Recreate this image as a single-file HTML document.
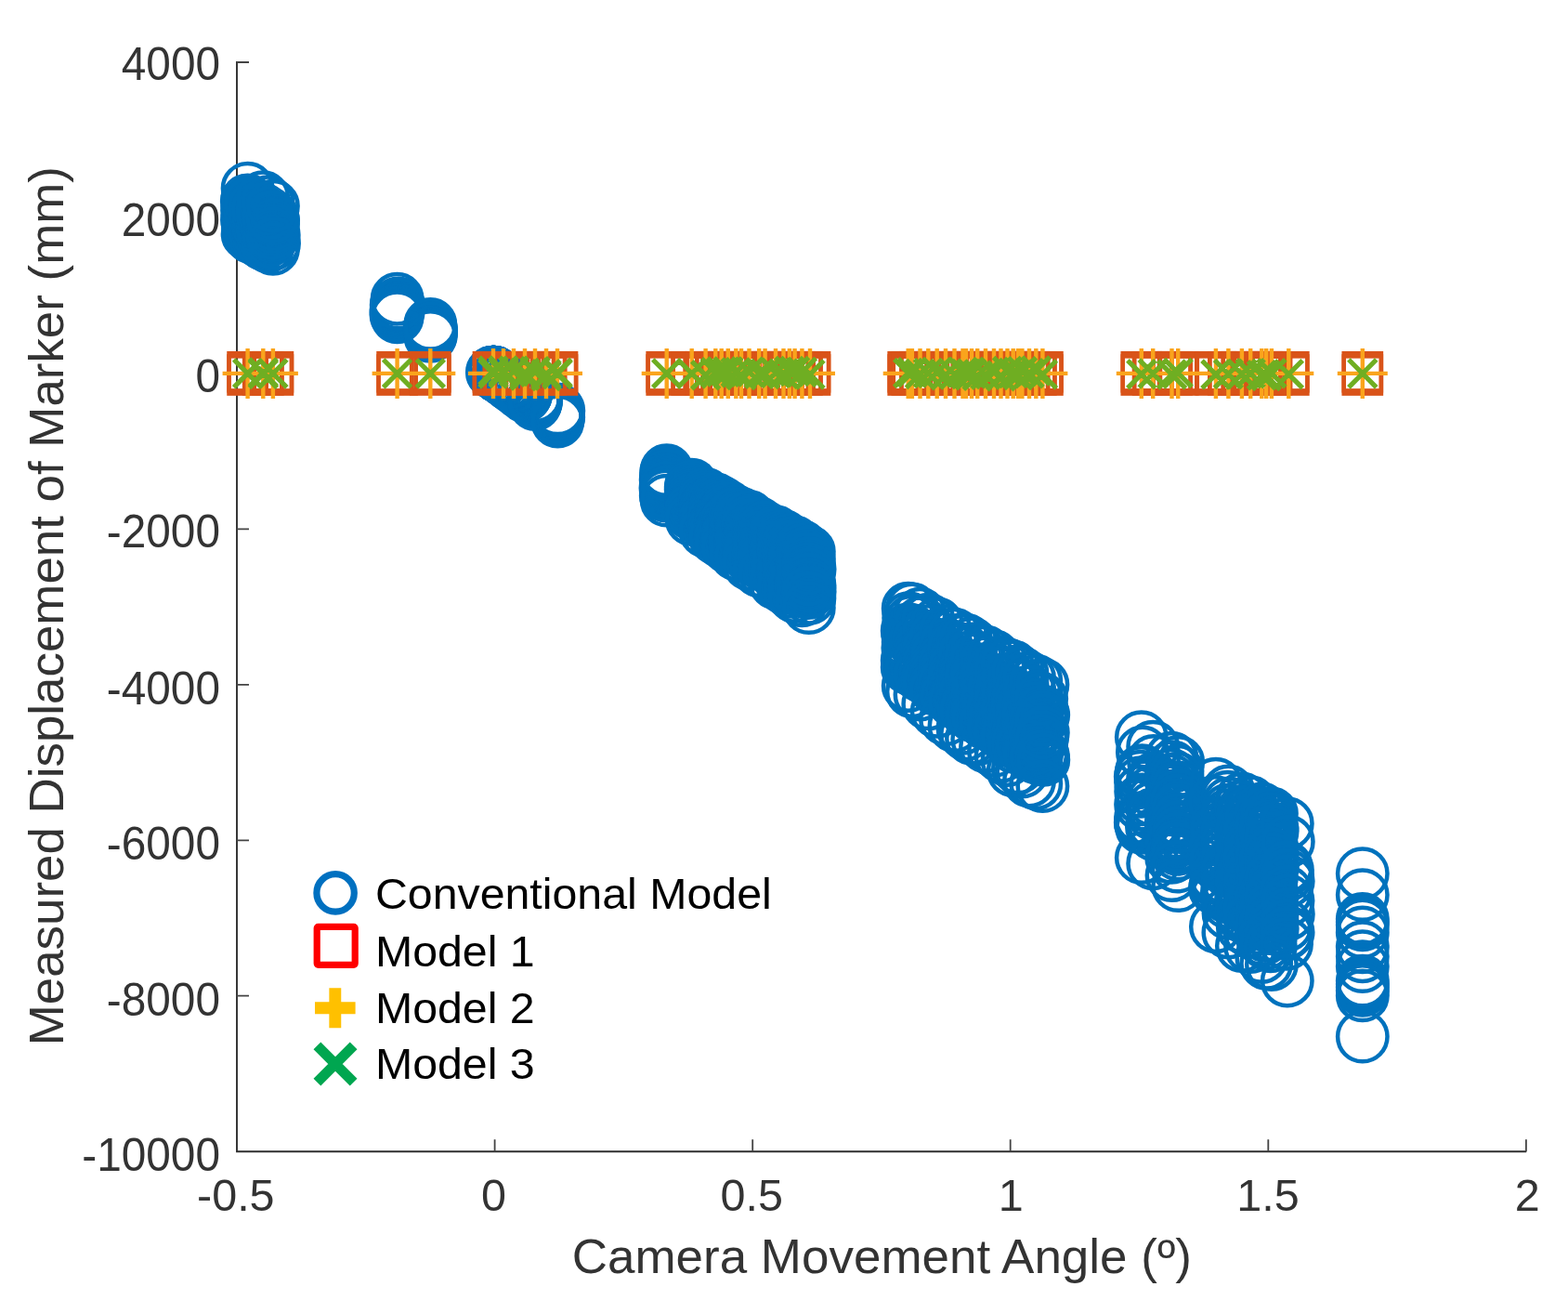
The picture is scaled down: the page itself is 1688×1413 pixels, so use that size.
<!DOCTYPE html>
<html lang="en"><head><meta charset="utf-8"><title>Measured Displacement of Marker vs Camera Movement Angle</title>
<style>
html,body{margin:0;padding:0;background:#fff;}
body{width:1688px;height:1413px;overflow:hidden;}
svg{display:block;}
text{font-family:"Liberation Sans",sans-serif;}
.tk{font-size:48.5px;fill:#333333;}
.lb{font-size:53px;fill:#333333;}
.lg{font-size:48.3px;fill:#000;}
.c{fill:none;stroke:#0072BD;stroke-width:4.5;}
.s{fill:none;stroke:#D95319;stroke-width:4.5;}
.p{fill:none;stroke:#FAA41C;stroke-width:4.4;}
.x{fill:none;stroke:#6FAE22;stroke-width:5.2;}
</style></head><body>
<svg width="1688" height="1413" viewBox="0 0 1688 1413" role="img" aria-label="Scatter plot of measured displacement of marker versus camera movement angle">
<rect width="1688" height="1413" fill="#fff"/>
<g stroke="#2e2e2e" stroke-width="1.9" fill="none" stroke-linecap="butt">
<path d="M255.0 66.0V1239.2H1643.2"/>
<path stroke="#444" stroke-width="1.8" d="M532.6 1239.2v-13.0M810.2 1239.2v-13.0M1087.7 1239.2v-13.0M1365.3 1239.2v-13.0M1642.9 1239.2v-13.0M255.0 67.0h13.0M255.0 234.5h13.0M255.0 401.9h13.0M255.0 569.4h13.0M255.0 736.8h13.0M255.0 904.3h13.0M255.0 1071.7h13.0"/>
</g>
<g class="c">
<circle cx="266.6" cy="251.9" r="26.7"/>
<circle cx="267.1" cy="245.5" r="26.7"/>
<circle cx="267.5" cy="238.5" r="26.7"/>
<circle cx="267.1" cy="237.4" r="26.7"/>
<circle cx="266.0" cy="236.7" r="26.7"/>
<circle cx="266.6" cy="233.8" r="26.7"/>
<circle cx="267.1" cy="229.8" r="26.7"/>
<circle cx="266.1" cy="226.4" r="26.7"/>
<circle cx="266.6" cy="223.6" r="26.7"/>
<circle cx="267.8" cy="219.2" r="26.7"/>
<circle cx="267.2" cy="218.9" r="26.7"/>
<circle cx="267.1" cy="217.6" r="26.7"/>
<circle cx="265.8" cy="216.2" r="26.7"/>
<circle cx="266.4" cy="215.4" r="26.7"/>
<circle cx="266.6" cy="202.7" r="26.7"/>
<circle cx="270.5" cy="255.4" r="26.7"/>
<circle cx="270.3" cy="249.0" r="26.7"/>
<circle cx="271.1" cy="242.0" r="26.7"/>
<circle cx="270.2" cy="240.2" r="26.7"/>
<circle cx="269.8" cy="239.8" r="26.7"/>
<circle cx="270.1" cy="237.5" r="26.7"/>
<circle cx="271.4" cy="233.2" r="26.7"/>
<circle cx="269.4" cy="230.4" r="26.7"/>
<circle cx="269.3" cy="227.3" r="26.7"/>
<circle cx="271.3" cy="222.1" r="26.7"/>
<circle cx="271.6" cy="221.8" r="26.7"/>
<circle cx="270.3" cy="220.2" r="26.7"/>
<circle cx="271.3" cy="220.1" r="26.7"/>
<circle cx="269.9" cy="217.9" r="26.7"/>
<circle cx="275.0" cy="255.3" r="26.7"/>
<circle cx="274.3" cy="249.4" r="26.7"/>
<circle cx="275.8" cy="242.4" r="26.7"/>
<circle cx="274.7" cy="241.9" r="26.7"/>
<circle cx="276.1" cy="240.8" r="26.7"/>
<circle cx="274.9" cy="238.0" r="26.7"/>
<circle cx="275.5" cy="234.7" r="26.7"/>
<circle cx="274.6" cy="231.3" r="26.7"/>
<circle cx="275.4" cy="229.2" r="26.7"/>
<circle cx="275.8" cy="225.2" r="26.7"/>
<circle cx="274.2" cy="224.4" r="26.7"/>
<circle cx="274.6" cy="222.7" r="26.7"/>
<circle cx="275.7" cy="222.5" r="26.7"/>
<circle cx="274.9" cy="220.9" r="26.7"/>
<circle cx="279.0" cy="259.6" r="26.7"/>
<circle cx="278.8" cy="253.3" r="26.7"/>
<circle cx="278.3" cy="245.8" r="26.7"/>
<circle cx="278.5" cy="245.9" r="26.7"/>
<circle cx="279.4" cy="245.0" r="26.7"/>
<circle cx="278.0" cy="242.6" r="26.7"/>
<circle cx="278.3" cy="238.4" r="26.7"/>
<circle cx="279.0" cy="235.5" r="26.7"/>
<circle cx="278.7" cy="232.7" r="26.7"/>
<circle cx="279.7" cy="227.9" r="26.7"/>
<circle cx="280.0" cy="227.1" r="26.7"/>
<circle cx="280.0" cy="226.3" r="26.7"/>
<circle cx="279.3" cy="225.1" r="26.7"/>
<circle cx="277.9" cy="224.3" r="26.7"/>
<circle cx="283.3" cy="262.5" r="26.7"/>
<circle cx="283.6" cy="255.4" r="26.7"/>
<circle cx="283.3" cy="249.0" r="26.7"/>
<circle cx="283.5" cy="247.9" r="26.7"/>
<circle cx="282.5" cy="246.4" r="26.7"/>
<circle cx="282.4" cy="244.8" r="26.7"/>
<circle cx="283.4" cy="239.3" r="26.7"/>
<circle cx="283.6" cy="236.4" r="26.7"/>
<circle cx="283.4" cy="233.7" r="26.7"/>
<circle cx="282.9" cy="229.4" r="26.7"/>
<circle cx="282.2" cy="228.9" r="26.7"/>
<circle cx="283.6" cy="228.0" r="26.7"/>
<circle cx="283.6" cy="226.3" r="26.7"/>
<circle cx="282.6" cy="225.2" r="26.7"/>
<circle cx="283.3" cy="212.2" r="26.7"/>
<circle cx="288.5" cy="265.3" r="26.7"/>
<circle cx="289.1" cy="259.2" r="26.7"/>
<circle cx="289.3" cy="251.8" r="26.7"/>
<circle cx="287.8" cy="250.7" r="26.7"/>
<circle cx="288.4" cy="250.1" r="26.7"/>
<circle cx="289.0" cy="248.0" r="26.7"/>
<circle cx="287.7" cy="243.2" r="26.7"/>
<circle cx="289.1" cy="241.0" r="26.7"/>
<circle cx="288.9" cy="238.1" r="26.7"/>
<circle cx="288.9" cy="234.2" r="26.7"/>
<circle cx="289.1" cy="232.4" r="26.7"/>
<circle cx="289.6" cy="231.9" r="26.7"/>
<circle cx="288.4" cy="231.2" r="26.7"/>
<circle cx="289.2" cy="229.4" r="26.7"/>
<circle cx="288.5" cy="217.3" r="26.7"/>
<circle cx="293.9" cy="267.9" r="26.7"/>
<circle cx="295.0" cy="262.0" r="26.7"/>
<circle cx="293.3" cy="254.5" r="26.7"/>
<circle cx="293.2" cy="253.9" r="26.7"/>
<circle cx="294.7" cy="252.8" r="26.7"/>
<circle cx="292.9" cy="250.8" r="26.7"/>
<circle cx="293.1" cy="246.6" r="26.7"/>
<circle cx="293.4" cy="244.0" r="26.7"/>
<circle cx="293.9" cy="241.1" r="26.7"/>
<circle cx="293.8" cy="237.6" r="26.7"/>
<circle cx="293.9" cy="236.6" r="26.7"/>
<circle cx="292.8" cy="235.9" r="26.7"/>
<circle cx="293.6" cy="235.2" r="26.7"/>
<circle cx="293.1" cy="233.2" r="26.7"/>
<circle cx="293.9" cy="221.7" r="26.7"/>
<circle cx="427.6" cy="341.3" r="26.7"/>
<circle cx="426.5" cy="338.7" r="26.7"/>
<circle cx="426.5" cy="335.9" r="26.7"/>
<circle cx="428.7" cy="335.3" r="26.7"/>
<circle cx="427.2" cy="335.3" r="26.7"/>
<circle cx="426.7" cy="334.1" r="26.7"/>
<circle cx="426.7" cy="332.4" r="26.7"/>
<circle cx="427.8" cy="331.5" r="26.7"/>
<circle cx="427.4" cy="330.0" r="26.7"/>
<circle cx="427.0" cy="328.6" r="26.7"/>
<circle cx="426.7" cy="328.2" r="26.7"/>
<circle cx="427.8" cy="327.7" r="26.7"/>
<circle cx="428.3" cy="327.3" r="26.7"/>
<circle cx="428.6" cy="326.5" r="26.7"/>
<circle cx="427.6" cy="321.7" r="26.7"/>
<circle cx="463.3" cy="361.9" r="26.7"/>
<circle cx="463.9" cy="360.2" r="26.7"/>
<circle cx="462.8" cy="358.2" r="26.7"/>
<circle cx="463.6" cy="358.1" r="26.7"/>
<circle cx="463.9" cy="357.8" r="26.7"/>
<circle cx="463.4" cy="357.3" r="26.7"/>
<circle cx="464.0" cy="356.1" r="26.7"/>
<circle cx="463.1" cy="355.4" r="26.7"/>
<circle cx="462.8" cy="354.5" r="26.7"/>
<circle cx="463.7" cy="353.2" r="26.7"/>
<circle cx="463.6" cy="353.2" r="26.7"/>
<circle cx="463.0" cy="353.0" r="26.7"/>
<circle cx="462.7" cy="352.5" r="26.7"/>
<circle cx="463.7" cy="352.2" r="26.7"/>
<circle cx="463.3" cy="348.9" r="26.7"/>
<circle cx="531.0" cy="400.9" r="26.7"/>
<circle cx="531.1" cy="400.9" r="26.7"/>
<circle cx="531.6" cy="400.8" r="26.7"/>
<circle cx="530.9" cy="400.8" r="26.7"/>
<circle cx="530.4" cy="400.8" r="26.7"/>
<circle cx="531.6" cy="400.8" r="26.7"/>
<circle cx="532.1" cy="400.8" r="26.7"/>
<circle cx="531.0" cy="400.8" r="26.7"/>
<circle cx="529.9" cy="400.7" r="26.7"/>
<circle cx="531.5" cy="400.7" r="26.7"/>
<circle cx="532.0" cy="400.7" r="26.7"/>
<circle cx="531.3" cy="400.7" r="26.7"/>
<circle cx="531.6" cy="400.7" r="26.7"/>
<circle cx="531.6" cy="400.7" r="26.7"/>
<circle cx="531.0" cy="400.6" r="26.7"/>
<circle cx="537.0" cy="404.3" r="26.7"/>
<circle cx="537.7" cy="404.5" r="26.7"/>
<circle cx="537.4" cy="404.6" r="26.7"/>
<circle cx="538.1" cy="404.6" r="26.7"/>
<circle cx="536.2" cy="404.6" r="26.7"/>
<circle cx="537.8" cy="404.7" r="26.7"/>
<circle cx="536.1" cy="404.7" r="26.7"/>
<circle cx="536.1" cy="404.8" r="26.7"/>
<circle cx="538.2" cy="404.8" r="26.7"/>
<circle cx="536.0" cy="404.9" r="26.7"/>
<circle cx="536.4" cy="404.9" r="26.7"/>
<circle cx="538.0" cy="404.9" r="26.7"/>
<circle cx="538.0" cy="405.0" r="26.7"/>
<circle cx="536.1" cy="405.0" r="26.7"/>
<circle cx="537.0" cy="405.2" r="26.7"/>
<circle cx="542.0" cy="407.2" r="26.7"/>
<circle cx="541.8" cy="407.4" r="26.7"/>
<circle cx="541.6" cy="407.7" r="26.7"/>
<circle cx="541.4" cy="407.7" r="26.7"/>
<circle cx="541.7" cy="407.8" r="26.7"/>
<circle cx="541.2" cy="407.8" r="26.7"/>
<circle cx="541.4" cy="408.0" r="26.7"/>
<circle cx="542.1" cy="408.1" r="26.7"/>
<circle cx="542.6" cy="408.2" r="26.7"/>
<circle cx="542.8" cy="408.4" r="26.7"/>
<circle cx="541.4" cy="408.4" r="26.7"/>
<circle cx="542.3" cy="408.4" r="26.7"/>
<circle cx="541.8" cy="408.5" r="26.7"/>
<circle cx="541.9" cy="408.5" r="26.7"/>
<circle cx="542.0" cy="409.0" r="26.7"/>
<circle cx="548.0" cy="410.6" r="26.7"/>
<circle cx="547.7" cy="411.0" r="26.7"/>
<circle cx="548.0" cy="411.4" r="26.7"/>
<circle cx="547.9" cy="411.5" r="26.7"/>
<circle cx="546.9" cy="411.5" r="26.7"/>
<circle cx="547.2" cy="411.7" r="26.7"/>
<circle cx="548.0" cy="412.0" r="26.7"/>
<circle cx="548.0" cy="412.1" r="26.7"/>
<circle cx="547.0" cy="412.3" r="26.7"/>
<circle cx="549.1" cy="412.6" r="26.7"/>
<circle cx="547.2" cy="412.6" r="26.7"/>
<circle cx="548.3" cy="412.7" r="26.7"/>
<circle cx="547.1" cy="412.7" r="26.7"/>
<circle cx="548.6" cy="412.8" r="26.7"/>
<circle cx="548.0" cy="413.6" r="26.7"/>
<circle cx="553.0" cy="413.5" r="26.7"/>
<circle cx="553.5" cy="414.0" r="26.7"/>
<circle cx="553.0" cy="414.5" r="26.7"/>
<circle cx="553.1" cy="414.7" r="26.7"/>
<circle cx="553.8" cy="414.7" r="26.7"/>
<circle cx="553.4" cy="414.9" r="26.7"/>
<circle cx="553.3" cy="415.2" r="26.7"/>
<circle cx="553.2" cy="415.5" r="26.7"/>
<circle cx="553.4" cy="415.7" r="26.7"/>
<circle cx="553.5" cy="416.1" r="26.7"/>
<circle cx="554.2" cy="416.1" r="26.7"/>
<circle cx="551.9" cy="416.2" r="26.7"/>
<circle cx="553.7" cy="416.3" r="26.7"/>
<circle cx="552.6" cy="416.4" r="26.7"/>
<circle cx="553.0" cy="417.4" r="26.7"/>
<circle cx="559.0" cy="416.9" r="26.7"/>
<circle cx="557.8" cy="417.5" r="26.7"/>
<circle cx="558.6" cy="418.3" r="26.7"/>
<circle cx="558.5" cy="418.3" r="26.7"/>
<circle cx="557.9" cy="418.5" r="26.7"/>
<circle cx="559.7" cy="418.7" r="26.7"/>
<circle cx="558.7" cy="419.2" r="26.7"/>
<circle cx="559.4" cy="419.5" r="26.7"/>
<circle cx="557.8" cy="419.7" r="26.7"/>
<circle cx="558.8" cy="420.2" r="26.7"/>
<circle cx="558.6" cy="420.3" r="26.7"/>
<circle cx="558.6" cy="420.4" r="26.7"/>
<circle cx="559.2" cy="420.6" r="26.7"/>
<circle cx="558.8" cy="420.7" r="26.7"/>
<circle cx="559.0" cy="422.0" r="26.7"/>
<circle cx="565.0" cy="420.3" r="26.7"/>
<circle cx="564.9" cy="421.1" r="26.7"/>
<circle cx="564.1" cy="422.0" r="26.7"/>
<circle cx="566.0" cy="422.2" r="26.7"/>
<circle cx="566.2" cy="422.2" r="26.7"/>
<circle cx="565.5" cy="422.5" r="26.7"/>
<circle cx="565.8" cy="423.2" r="26.7"/>
<circle cx="565.8" cy="423.5" r="26.7"/>
<circle cx="565.8" cy="423.9" r="26.7"/>
<circle cx="566.0" cy="424.5" r="26.7"/>
<circle cx="564.7" cy="424.6" r="26.7"/>
<circle cx="565.8" cy="424.7" r="26.7"/>
<circle cx="565.9" cy="424.7" r="26.7"/>
<circle cx="565.2" cy="425.0" r="26.7"/>
<circle cx="565.0" cy="426.6" r="26.7"/>
<circle cx="576.0" cy="426.5" r="26.7"/>
<circle cx="576.7" cy="427.7" r="26.7"/>
<circle cx="577.0" cy="429.0" r="26.7"/>
<circle cx="576.5" cy="429.1" r="26.7"/>
<circle cx="576.3" cy="429.2" r="26.7"/>
<circle cx="574.8" cy="429.7" r="26.7"/>
<circle cx="577.0" cy="430.4" r="26.7"/>
<circle cx="576.9" cy="430.9" r="26.7"/>
<circle cx="575.2" cy="431.3" r="26.7"/>
<circle cx="574.8" cy="432.0" r="26.7"/>
<circle cx="575.6" cy="432.2" r="26.7"/>
<circle cx="575.4" cy="432.5" r="26.7"/>
<circle cx="576.7" cy="432.6" r="26.7"/>
<circle cx="576.8" cy="432.8" r="26.7"/>
<circle cx="576.0" cy="435.0" r="26.7"/>
<circle cx="600.3" cy="440.4" r="26.7"/>
<circle cx="601.3" cy="441.9" r="26.7"/>
<circle cx="600.0" cy="444.1" r="26.7"/>
<circle cx="600.4" cy="444.3" r="26.7"/>
<circle cx="599.7" cy="444.4" r="26.7"/>
<circle cx="601.0" cy="445.0" r="26.7"/>
<circle cx="600.4" cy="446.3" r="26.7"/>
<circle cx="600.9" cy="447.0" r="26.7"/>
<circle cx="600.7" cy="447.9" r="26.7"/>
<circle cx="601.2" cy="448.9" r="26.7"/>
<circle cx="599.1" cy="449.2" r="26.7"/>
<circle cx="599.7" cy="449.7" r="26.7"/>
<circle cx="599.4" cy="449.8" r="26.7"/>
<circle cx="600.5" cy="450.1" r="26.7"/>
<circle cx="600.3" cy="453.5" r="26.7"/>
<circle cx="717.7" cy="506.1" r="26.7"/>
<circle cx="717.1" cy="508.6" r="26.7"/>
<circle cx="718.7" cy="510.7" r="26.7"/>
<circle cx="717.6" cy="512.1" r="26.7"/>
<circle cx="717.0" cy="515.6" r="26.7"/>
<circle cx="717.5" cy="515.7" r="26.7"/>
<circle cx="716.7" cy="516.5" r="26.7"/>
<circle cx="718.3" cy="518.0" r="26.7"/>
<circle cx="717.8" cy="519.8" r="26.7"/>
<circle cx="718.6" cy="521.2" r="26.7"/>
<circle cx="718.2" cy="522.8" r="26.7"/>
<circle cx="718.3" cy="524.3" r="26.7"/>
<circle cx="716.5" cy="525.2" r="26.7"/>
<circle cx="718.2" cy="528.1" r="26.7"/>
<circle cx="718.1" cy="527.9" r="26.7"/>
<circle cx="718.1" cy="529.2" r="26.7"/>
<circle cx="718.1" cy="529.3" r="26.7"/>
<circle cx="717.6" cy="530.3" r="26.7"/>
<circle cx="716.8" cy="533.5" r="26.7"/>
<circle cx="717.7" cy="538.6" r="26.7"/>
<circle cx="744.7" cy="521.6" r="26.7"/>
<circle cx="743.8" cy="523.7" r="26.7"/>
<circle cx="743.7" cy="526.8" r="26.7"/>
<circle cx="744.9" cy="529.1" r="26.7"/>
<circle cx="743.8" cy="531.5" r="26.7"/>
<circle cx="745.0" cy="532.7" r="26.7"/>
<circle cx="745.2" cy="533.2" r="26.7"/>
<circle cx="744.5" cy="535.2" r="26.7"/>
<circle cx="745.7" cy="536.9" r="26.7"/>
<circle cx="744.9" cy="538.2" r="26.7"/>
<circle cx="744.8" cy="541.1" r="26.7"/>
<circle cx="745.8" cy="543.4" r="26.7"/>
<circle cx="745.8" cy="544.2" r="26.7"/>
<circle cx="744.7" cy="546.1" r="26.7"/>
<circle cx="744.4" cy="547.3" r="26.7"/>
<circle cx="745.9" cy="547.4" r="26.7"/>
<circle cx="745.7" cy="548.7" r="26.7"/>
<circle cx="744.0" cy="549.2" r="26.7"/>
<circle cx="744.9" cy="553.2" r="26.7"/>
<circle cx="744.7" cy="559.0" r="26.7"/>
<circle cx="759.6" cy="531.7" r="26.7"/>
<circle cx="759.2" cy="535.0" r="26.7"/>
<circle cx="758.6" cy="537.6" r="26.7"/>
<circle cx="760.5" cy="540.0" r="26.7"/>
<circle cx="758.4" cy="542.6" r="26.7"/>
<circle cx="760.2" cy="543.8" r="26.7"/>
<circle cx="759.9" cy="545.0" r="26.7"/>
<circle cx="759.6" cy="546.0" r="26.7"/>
<circle cx="759.6" cy="547.4" r="26.7"/>
<circle cx="759.1" cy="549.8" r="26.7"/>
<circle cx="759.2" cy="552.0" r="26.7"/>
<circle cx="758.9" cy="553.9" r="26.7"/>
<circle cx="759.9" cy="555.8" r="26.7"/>
<circle cx="760.0" cy="557.3" r="26.7"/>
<circle cx="760.4" cy="559.1" r="26.7"/>
<circle cx="758.8" cy="559.8" r="26.7"/>
<circle cx="759.4" cy="559.7" r="26.7"/>
<circle cx="760.2" cy="562.3" r="26.7"/>
<circle cx="760.3" cy="565.0" r="26.7"/>
<circle cx="759.6" cy="571.7" r="26.7"/>
<circle cx="770.3" cy="537.2" r="26.7"/>
<circle cx="771.4" cy="539.9" r="26.7"/>
<circle cx="770.9" cy="542.6" r="26.7"/>
<circle cx="770.3" cy="545.5" r="26.7"/>
<circle cx="769.2" cy="549.3" r="26.7"/>
<circle cx="770.7" cy="549.3" r="26.7"/>
<circle cx="771.1" cy="551.0" r="26.7"/>
<circle cx="769.4" cy="551.7" r="26.7"/>
<circle cx="769.3" cy="553.9" r="26.7"/>
<circle cx="771.1" cy="556.6" r="26.7"/>
<circle cx="769.1" cy="557.8" r="26.7"/>
<circle cx="771.5" cy="560.4" r="26.7"/>
<circle cx="771.1" cy="561.9" r="26.7"/>
<circle cx="770.3" cy="564.9" r="26.7"/>
<circle cx="769.6" cy="565.0" r="26.7"/>
<circle cx="771.2" cy="566.0" r="26.7"/>
<circle cx="770.9" cy="566.9" r="26.7"/>
<circle cx="769.3" cy="568.1" r="26.7"/>
<circle cx="770.3" cy="572.8" r="26.7"/>
<circle cx="770.3" cy="579.0" r="26.7"/>
<circle cx="776.7" cy="540.8" r="26.7"/>
<circle cx="777.8" cy="543.5" r="26.7"/>
<circle cx="776.6" cy="545.9" r="26.7"/>
<circle cx="777.3" cy="548.6" r="26.7"/>
<circle cx="777.6" cy="552.9" r="26.7"/>
<circle cx="777.4" cy="553.7" r="26.7"/>
<circle cx="777.7" cy="554.4" r="26.7"/>
<circle cx="776.1" cy="556.2" r="26.7"/>
<circle cx="776.3" cy="557.6" r="26.7"/>
<circle cx="776.4" cy="559.5" r="26.7"/>
<circle cx="775.9" cy="562.7" r="26.7"/>
<circle cx="775.6" cy="565.6" r="26.7"/>
<circle cx="777.2" cy="567.1" r="26.7"/>
<circle cx="776.1" cy="569.0" r="26.7"/>
<circle cx="777.1" cy="569.3" r="26.7"/>
<circle cx="775.6" cy="571.0" r="26.7"/>
<circle cx="776.2" cy="571.5" r="26.7"/>
<circle cx="776.6" cy="572.9" r="26.7"/>
<circle cx="776.0" cy="576.9" r="26.7"/>
<circle cx="776.7" cy="583.2" r="26.7"/>
<circle cx="783.8" cy="545.2" r="26.7"/>
<circle cx="783.2" cy="547.5" r="26.7"/>
<circle cx="783.8" cy="550.5" r="26.7"/>
<circle cx="783.0" cy="554.6" r="26.7"/>
<circle cx="782.7" cy="557.4" r="26.7"/>
<circle cx="783.7" cy="558.7" r="26.7"/>
<circle cx="783.6" cy="558.8" r="26.7"/>
<circle cx="783.0" cy="560.2" r="26.7"/>
<circle cx="784.2" cy="563.6" r="26.7"/>
<circle cx="784.4" cy="565.0" r="26.7"/>
<circle cx="784.6" cy="568.2" r="26.7"/>
<circle cx="784.3" cy="570.5" r="26.7"/>
<circle cx="784.8" cy="571.5" r="26.7"/>
<circle cx="783.8" cy="574.6" r="26.7"/>
<circle cx="783.5" cy="574.3" r="26.7"/>
<circle cx="783.5" cy="575.1" r="26.7"/>
<circle cx="783.5" cy="575.9" r="26.7"/>
<circle cx="784.7" cy="577.3" r="26.7"/>
<circle cx="783.5" cy="582.2" r="26.7"/>
<circle cx="783.8" cy="588.8" r="26.7"/>
<circle cx="792.3" cy="550.4" r="26.7"/>
<circle cx="791.7" cy="552.8" r="26.7"/>
<circle cx="792.8" cy="557.2" r="26.7"/>
<circle cx="792.8" cy="558.9" r="26.7"/>
<circle cx="792.1" cy="563.1" r="26.7"/>
<circle cx="791.2" cy="563.7" r="26.7"/>
<circle cx="792.3" cy="564.4" r="26.7"/>
<circle cx="793.4" cy="567.8" r="26.7"/>
<circle cx="792.3" cy="569.9" r="26.7"/>
<circle cx="792.3" cy="571.3" r="26.7"/>
<circle cx="793.2" cy="573.1" r="26.7"/>
<circle cx="792.9" cy="577.3" r="26.7"/>
<circle cx="791.2" cy="577.2" r="26.7"/>
<circle cx="791.2" cy="580.6" r="26.7"/>
<circle cx="791.8" cy="581.7" r="26.7"/>
<circle cx="792.0" cy="582.0" r="26.7"/>
<circle cx="791.2" cy="583.5" r="26.7"/>
<circle cx="793.5" cy="585.5" r="26.7"/>
<circle cx="791.7" cy="589.0" r="26.7"/>
<circle cx="792.3" cy="596.3" r="26.7"/>
<circle cx="798.0" cy="553.0" r="26.7"/>
<circle cx="797.6" cy="555.4" r="26.7"/>
<circle cx="796.9" cy="558.3" r="26.7"/>
<circle cx="798.3" cy="561.8" r="26.7"/>
<circle cx="798.7" cy="566.1" r="26.7"/>
<circle cx="798.4" cy="566.8" r="26.7"/>
<circle cx="798.9" cy="567.5" r="26.7"/>
<circle cx="798.2" cy="570.4" r="26.7"/>
<circle cx="798.9" cy="572.5" r="26.7"/>
<circle cx="797.9" cy="573.7" r="26.7"/>
<circle cx="798.0" cy="576.1" r="26.7"/>
<circle cx="797.7" cy="578.6" r="26.7"/>
<circle cx="799.2" cy="580.6" r="26.7"/>
<circle cx="797.3" cy="583.4" r="26.7"/>
<circle cx="797.5" cy="583.6" r="26.7"/>
<circle cx="797.7" cy="585.8" r="26.7"/>
<circle cx="797.9" cy="585.1" r="26.7"/>
<circle cx="799.0" cy="587.8" r="26.7"/>
<circle cx="798.8" cy="591.8" r="26.7"/>
<circle cx="798.0" cy="598.9" r="26.7"/>
<circle cx="806.5" cy="555.9" r="26.7"/>
<circle cx="807.4" cy="560.4" r="26.7"/>
<circle cx="805.6" cy="562.2" r="26.7"/>
<circle cx="805.4" cy="565.5" r="26.7"/>
<circle cx="807.6" cy="569.7" r="26.7"/>
<circle cx="806.8" cy="572.0" r="26.7"/>
<circle cx="807.5" cy="571.5" r="26.7"/>
<circle cx="807.4" cy="574.2" r="26.7"/>
<circle cx="807.1" cy="576.3" r="26.7"/>
<circle cx="807.3" cy="578.0" r="26.7"/>
<circle cx="806.7" cy="581.0" r="26.7"/>
<circle cx="805.3" cy="584.1" r="26.7"/>
<circle cx="805.9" cy="587.6" r="26.7"/>
<circle cx="806.7" cy="589.0" r="26.7"/>
<circle cx="805.9" cy="591.1" r="26.7"/>
<circle cx="806.4" cy="592.1" r="26.7"/>
<circle cx="806.7" cy="593.5" r="26.7"/>
<circle cx="807.3" cy="594.3" r="26.7"/>
<circle cx="806.5" cy="599.0" r="26.7"/>
<circle cx="806.5" cy="607.0" r="26.7"/>
<circle cx="817.2" cy="563.1" r="26.7"/>
<circle cx="818.1" cy="567.6" r="26.7"/>
<circle cx="816.9" cy="570.6" r="26.7"/>
<circle cx="818.3" cy="572.5" r="26.7"/>
<circle cx="818.3" cy="577.4" r="26.7"/>
<circle cx="816.7" cy="579.0" r="26.7"/>
<circle cx="818.3" cy="579.8" r="26.7"/>
<circle cx="818.2" cy="582.0" r="26.7"/>
<circle cx="816.7" cy="585.0" r="26.7"/>
<circle cx="818.3" cy="586.1" r="26.7"/>
<circle cx="817.0" cy="588.8" r="26.7"/>
<circle cx="817.8" cy="591.4" r="26.7"/>
<circle cx="817.0" cy="593.7" r="26.7"/>
<circle cx="818.3" cy="595.9" r="26.7"/>
<circle cx="816.9" cy="598.4" r="26.7"/>
<circle cx="816.0" cy="599.4" r="26.7"/>
<circle cx="816.1" cy="599.0" r="26.7"/>
<circle cx="817.6" cy="601.8" r="26.7"/>
<circle cx="817.9" cy="605.8" r="26.7"/>
<circle cx="817.2" cy="614.3" r="26.7"/>
<circle cx="823.6" cy="567.4" r="26.7"/>
<circle cx="824.6" cy="571.5" r="26.7"/>
<circle cx="822.7" cy="574.3" r="26.7"/>
<circle cx="823.8" cy="577.0" r="26.7"/>
<circle cx="823.1" cy="580.5" r="26.7"/>
<circle cx="822.4" cy="582.8" r="26.7"/>
<circle cx="824.5" cy="582.9" r="26.7"/>
<circle cx="824.5" cy="584.5" r="26.7"/>
<circle cx="823.2" cy="587.6" r="26.7"/>
<circle cx="823.0" cy="590.3" r="26.7"/>
<circle cx="824.0" cy="593.3" r="26.7"/>
<circle cx="822.6" cy="594.8" r="26.7"/>
<circle cx="823.5" cy="597.4" r="26.7"/>
<circle cx="822.5" cy="599.2" r="26.7"/>
<circle cx="824.0" cy="600.4" r="26.7"/>
<circle cx="822.8" cy="602.7" r="26.7"/>
<circle cx="822.5" cy="602.1" r="26.7"/>
<circle cx="824.6" cy="605.3" r="26.7"/>
<circle cx="824.4" cy="608.8" r="26.7"/>
<circle cx="823.6" cy="617.0" r="26.7"/>
<circle cx="835.0" cy="572.1" r="26.7"/>
<circle cx="834.6" cy="575.7" r="26.7"/>
<circle cx="834.7" cy="579.2" r="26.7"/>
<circle cx="835.4" cy="582.5" r="26.7"/>
<circle cx="834.2" cy="587.8" r="26.7"/>
<circle cx="835.4" cy="589.2" r="26.7"/>
<circle cx="836.0" cy="588.7" r="26.7"/>
<circle cx="835.0" cy="593.1" r="26.7"/>
<circle cx="834.9" cy="595.9" r="26.7"/>
<circle cx="836.0" cy="597.6" r="26.7"/>
<circle cx="835.5" cy="600.5" r="26.7"/>
<circle cx="834.4" cy="604.3" r="26.7"/>
<circle cx="834.0" cy="605.7" r="26.7"/>
<circle cx="836.0" cy="608.3" r="26.7"/>
<circle cx="834.8" cy="610.7" r="26.7"/>
<circle cx="836.0" cy="609.8" r="26.7"/>
<circle cx="833.9" cy="611.7" r="26.7"/>
<circle cx="836.0" cy="613.3" r="26.7"/>
<circle cx="836.1" cy="618.4" r="26.7"/>
<circle cx="835.0" cy="627.5" r="26.7"/>
<circle cx="843.5" cy="577.0" r="26.7"/>
<circle cx="843.4" cy="580.0" r="26.7"/>
<circle cx="844.0" cy="583.2" r="26.7"/>
<circle cx="844.0" cy="588.2" r="26.7"/>
<circle cx="843.4" cy="592.0" r="26.7"/>
<circle cx="843.2" cy="592.6" r="26.7"/>
<circle cx="844.6" cy="595.1" r="26.7"/>
<circle cx="843.4" cy="596.7" r="26.7"/>
<circle cx="844.5" cy="600.1" r="26.7"/>
<circle cx="844.1" cy="601.1" r="26.7"/>
<circle cx="844.0" cy="604.5" r="26.7"/>
<circle cx="843.1" cy="609.4" r="26.7"/>
<circle cx="844.3" cy="610.6" r="26.7"/>
<circle cx="842.8" cy="613.1" r="26.7"/>
<circle cx="842.7" cy="615.1" r="26.7"/>
<circle cx="843.8" cy="615.5" r="26.7"/>
<circle cx="843.2" cy="616.4" r="26.7"/>
<circle cx="844.0" cy="618.7" r="26.7"/>
<circle cx="844.7" cy="623.4" r="26.7"/>
<circle cx="843.5" cy="632.4" r="26.7"/>
<circle cx="849.9" cy="581.3" r="26.7"/>
<circle cx="848.8" cy="584.8" r="26.7"/>
<circle cx="851.0" cy="588.6" r="26.7"/>
<circle cx="848.7" cy="592.3" r="26.7"/>
<circle cx="850.6" cy="597.7" r="26.7"/>
<circle cx="848.7" cy="598.9" r="26.7"/>
<circle cx="849.1" cy="598.5" r="26.7"/>
<circle cx="849.5" cy="600.4" r="26.7"/>
<circle cx="850.9" cy="604.5" r="26.7"/>
<circle cx="849.5" cy="605.7" r="26.7"/>
<circle cx="850.4" cy="609.9" r="26.7"/>
<circle cx="849.1" cy="613.7" r="26.7"/>
<circle cx="850.8" cy="614.6" r="26.7"/>
<circle cx="850.2" cy="616.9" r="26.7"/>
<circle cx="849.6" cy="618.1" r="26.7"/>
<circle cx="850.7" cy="619.7" r="26.7"/>
<circle cx="849.0" cy="621.7" r="26.7"/>
<circle cx="849.1" cy="622.6" r="26.7"/>
<circle cx="850.1" cy="629.1" r="26.7"/>
<circle cx="849.9" cy="636.9" r="26.7"/>
<circle cx="855.6" cy="583.4" r="26.7"/>
<circle cx="854.6" cy="587.8" r="26.7"/>
<circle cx="855.2" cy="591.5" r="26.7"/>
<circle cx="856.0" cy="595.3" r="26.7"/>
<circle cx="856.0" cy="599.1" r="26.7"/>
<circle cx="854.8" cy="599.9" r="26.7"/>
<circle cx="855.4" cy="601.0" r="26.7"/>
<circle cx="855.1" cy="605.0" r="26.7"/>
<circle cx="854.7" cy="608.4" r="26.7"/>
<circle cx="855.0" cy="610.9" r="26.7"/>
<circle cx="856.0" cy="613.6" r="26.7"/>
<circle cx="856.3" cy="617.3" r="26.7"/>
<circle cx="855.9" cy="618.9" r="26.7"/>
<circle cx="854.7" cy="621.0" r="26.7"/>
<circle cx="855.1" cy="623.6" r="26.7"/>
<circle cx="854.5" cy="623.3" r="26.7"/>
<circle cx="855.5" cy="625.5" r="26.7"/>
<circle cx="856.5" cy="627.3" r="26.7"/>
<circle cx="855.0" cy="633.3" r="26.7"/>
<circle cx="855.6" cy="642.0" r="26.7"/>
<circle cx="863.4" cy="588.2" r="26.7"/>
<circle cx="863.8" cy="591.8" r="26.7"/>
<circle cx="864.0" cy="596.2" r="26.7"/>
<circle cx="863.6" cy="600.1" r="26.7"/>
<circle cx="862.2" cy="603.4" r="26.7"/>
<circle cx="862.7" cy="606.3" r="26.7"/>
<circle cx="862.9" cy="605.5" r="26.7"/>
<circle cx="863.3" cy="609.2" r="26.7"/>
<circle cx="864.0" cy="612.0" r="26.7"/>
<circle cx="863.8" cy="615.1" r="26.7"/>
<circle cx="863.7" cy="618.8" r="26.7"/>
<circle cx="863.1" cy="620.2" r="26.7"/>
<circle cx="862.8" cy="623.0" r="26.7"/>
<circle cx="862.7" cy="626.2" r="26.7"/>
<circle cx="863.2" cy="628.7" r="26.7"/>
<circle cx="862.3" cy="628.9" r="26.7"/>
<circle cx="862.6" cy="630.7" r="26.7"/>
<circle cx="864.1" cy="631.9" r="26.7"/>
<circle cx="864.2" cy="635.9" r="26.7"/>
<circle cx="863.4" cy="646.3" r="26.7"/>
<circle cx="870.8" cy="593.8" r="26.7"/>
<circle cx="869.9" cy="598.5" r="26.7"/>
<circle cx="870.8" cy="601.5" r="26.7"/>
<circle cx="870.8" cy="606.0" r="26.7"/>
<circle cx="869.9" cy="609.7" r="26.7"/>
<circle cx="871.6" cy="612.6" r="26.7"/>
<circle cx="869.9" cy="612.1" r="26.7"/>
<circle cx="870.6" cy="616.2" r="26.7"/>
<circle cx="870.5" cy="618.2" r="26.7"/>
<circle cx="869.6" cy="621.9" r="26.7"/>
<circle cx="870.5" cy="623.5" r="26.7"/>
<circle cx="870.4" cy="628.8" r="26.7"/>
<circle cx="871.5" cy="629.9" r="26.7"/>
<circle cx="871.4" cy="632.8" r="26.7"/>
<circle cx="870.1" cy="635.3" r="26.7"/>
<circle cx="871.2" cy="636.5" r="26.7"/>
<circle cx="871.6" cy="636.9" r="26.7"/>
<circle cx="869.9" cy="638.0" r="26.7"/>
<circle cx="871.4" cy="643.8" r="26.7"/>
<circle cx="870.8" cy="654.1" r="26.7"/>
<circle cx="977.7" cy="654.7" r="26.7"/>
<circle cx="978.2" cy="665.1" r="26.7"/>
<circle cx="978.1" cy="677.1" r="26.7"/>
<circle cx="976.7" cy="678.7" r="26.7"/>
<circle cx="978.6" cy="680.3" r="26.7"/>
<circle cx="977.5" cy="684.7" r="26.7"/>
<circle cx="977.7" cy="691.1" r="26.7"/>
<circle cx="977.4" cy="697.3" r="26.7"/>
<circle cx="978.0" cy="702.9" r="26.7"/>
<circle cx="976.7" cy="710.7" r="26.7"/>
<circle cx="978.0" cy="711.5" r="26.7"/>
<circle cx="978.7" cy="712.6" r="26.7"/>
<circle cx="977.8" cy="715.9" r="26.7"/>
<circle cx="976.7" cy="718.1" r="26.7"/>
<circle cx="977.7" cy="738.0" r="26.7"/>
<circle cx="981.9" cy="655.5" r="26.7"/>
<circle cx="980.9" cy="668.8" r="26.7"/>
<circle cx="981.7" cy="678.6" r="26.7"/>
<circle cx="981.3" cy="683.8" r="26.7"/>
<circle cx="982.8" cy="682.6" r="26.7"/>
<circle cx="981.2" cy="686.8" r="26.7"/>
<circle cx="981.0" cy="697.6" r="26.7"/>
<circle cx="983.0" cy="702.1" r="26.7"/>
<circle cx="983.0" cy="706.8" r="26.7"/>
<circle cx="981.3" cy="712.7" r="26.7"/>
<circle cx="982.6" cy="716.2" r="26.7"/>
<circle cx="981.4" cy="716.3" r="26.7"/>
<circle cx="982.0" cy="717.1" r="26.7"/>
<circle cx="980.8" cy="720.6" r="26.7"/>
<circle cx="981.9" cy="744.2" r="26.7"/>
<circle cx="990.5" cy="660.6" r="26.7"/>
<circle cx="991.7" cy="669.9" r="26.7"/>
<circle cx="991.3" cy="684.4" r="26.7"/>
<circle cx="991.1" cy="686.9" r="26.7"/>
<circle cx="989.3" cy="688.4" r="26.7"/>
<circle cx="991.5" cy="693.3" r="26.7"/>
<circle cx="990.1" cy="698.8" r="26.7"/>
<circle cx="990.8" cy="704.2" r="26.7"/>
<circle cx="990.6" cy="710.4" r="26.7"/>
<circle cx="990.9" cy="719.8" r="26.7"/>
<circle cx="991.5" cy="719.3" r="26.7"/>
<circle cx="990.8" cy="719.5" r="26.7"/>
<circle cx="991.4" cy="723.2" r="26.7"/>
<circle cx="990.2" cy="726.9" r="26.7"/>
<circle cx="990.5" cy="747.5" r="26.7"/>
<circle cx="999.3" cy="666.8" r="26.7"/>
<circle cx="1000.4" cy="678.9" r="26.7"/>
<circle cx="999.2" cy="693.6" r="26.7"/>
<circle cx="999.8" cy="695.2" r="26.7"/>
<circle cx="998.3" cy="697.6" r="26.7"/>
<circle cx="999.9" cy="697.9" r="26.7"/>
<circle cx="999.9" cy="707.8" r="26.7"/>
<circle cx="1000.3" cy="712.8" r="26.7"/>
<circle cx="1000.5" cy="720.6" r="26.7"/>
<circle cx="1000.3" cy="725.9" r="26.7"/>
<circle cx="999.0" cy="726.7" r="26.7"/>
<circle cx="999.6" cy="727.7" r="26.7"/>
<circle cx="998.5" cy="731.7" r="26.7"/>
<circle cx="1000.4" cy="733.1" r="26.7"/>
<circle cx="999.3" cy="757.4" r="26.7"/>
<circle cx="1008.7" cy="671.1" r="26.7"/>
<circle cx="1007.5" cy="684.4" r="26.7"/>
<circle cx="1008.6" cy="699.4" r="26.7"/>
<circle cx="1009.3" cy="698.1" r="26.7"/>
<circle cx="1009.2" cy="698.9" r="26.7"/>
<circle cx="1009.5" cy="704.7" r="26.7"/>
<circle cx="1009.6" cy="714.0" r="26.7"/>
<circle cx="1007.7" cy="721.0" r="26.7"/>
<circle cx="1008.3" cy="725.1" r="26.7"/>
<circle cx="1008.9" cy="731.7" r="26.7"/>
<circle cx="1008.8" cy="735.8" r="26.7"/>
<circle cx="1009.0" cy="737.4" r="26.7"/>
<circle cx="1007.6" cy="737.6" r="26.7"/>
<circle cx="1007.8" cy="741.7" r="26.7"/>
<circle cx="1008.7" cy="765.8" r="26.7"/>
<circle cx="1018.0" cy="679.2" r="26.7"/>
<circle cx="1018.5" cy="693.6" r="26.7"/>
<circle cx="1018.9" cy="705.8" r="26.7"/>
<circle cx="1017.2" cy="707.5" r="26.7"/>
<circle cx="1017.8" cy="708.0" r="26.7"/>
<circle cx="1017.7" cy="712.4" r="26.7"/>
<circle cx="1016.8" cy="723.4" r="26.7"/>
<circle cx="1018.4" cy="725.4" r="26.7"/>
<circle cx="1017.2" cy="734.3" r="26.7"/>
<circle cx="1018.6" cy="741.9" r="26.7"/>
<circle cx="1017.8" cy="744.8" r="26.7"/>
<circle cx="1019.2" cy="743.8" r="26.7"/>
<circle cx="1018.4" cy="746.9" r="26.7"/>
<circle cx="1019.2" cy="748.4" r="26.7"/>
<circle cx="1018.0" cy="774.1" r="26.7"/>
<circle cx="1027.5" cy="682.8" r="26.7"/>
<circle cx="1026.8" cy="697.9" r="26.7"/>
<circle cx="1027.0" cy="711.7" r="26.7"/>
<circle cx="1028.0" cy="712.2" r="26.7"/>
<circle cx="1028.1" cy="716.2" r="26.7"/>
<circle cx="1028.4" cy="717.6" r="26.7"/>
<circle cx="1027.4" cy="726.9" r="26.7"/>
<circle cx="1026.6" cy="734.1" r="26.7"/>
<circle cx="1028.6" cy="740.3" r="26.7"/>
<circle cx="1028.1" cy="746.5" r="26.7"/>
<circle cx="1028.0" cy="750.0" r="26.7"/>
<circle cx="1027.9" cy="751.3" r="26.7"/>
<circle cx="1026.9" cy="754.7" r="26.7"/>
<circle cx="1028.0" cy="755.6" r="26.7"/>
<circle cx="1027.5" cy="781.2" r="26.7"/>
<circle cx="1036.5" cy="687.9" r="26.7"/>
<circle cx="1036.9" cy="698.6" r="26.7"/>
<circle cx="1036.3" cy="715.1" r="26.7"/>
<circle cx="1037.5" cy="717.5" r="26.7"/>
<circle cx="1037.2" cy="716.2" r="26.7"/>
<circle cx="1036.2" cy="721.0" r="26.7"/>
<circle cx="1035.8" cy="730.4" r="26.7"/>
<circle cx="1035.4" cy="737.5" r="26.7"/>
<circle cx="1035.9" cy="743.0" r="26.7"/>
<circle cx="1036.4" cy="749.8" r="26.7"/>
<circle cx="1037.7" cy="750.8" r="26.7"/>
<circle cx="1035.4" cy="754.3" r="26.7"/>
<circle cx="1037.6" cy="756.5" r="26.7"/>
<circle cx="1037.1" cy="760.6" r="26.7"/>
<circle cx="1036.5" cy="783.8" r="26.7"/>
<circle cx="1040.0" cy="688.7" r="26.7"/>
<circle cx="1039.0" cy="702.6" r="26.7"/>
<circle cx="1039.9" cy="717.4" r="26.7"/>
<circle cx="1039.2" cy="719.7" r="26.7"/>
<circle cx="1040.5" cy="719.6" r="26.7"/>
<circle cx="1039.8" cy="726.3" r="26.7"/>
<circle cx="1039.8" cy="732.3" r="26.7"/>
<circle cx="1039.5" cy="739.4" r="26.7"/>
<circle cx="1039.5" cy="744.8" r="26.7"/>
<circle cx="1039.8" cy="755.9" r="26.7"/>
<circle cx="1040.8" cy="756.6" r="26.7"/>
<circle cx="1041.0" cy="759.2" r="26.7"/>
<circle cx="1040.9" cy="759.6" r="26.7"/>
<circle cx="1040.0" cy="764.6" r="26.7"/>
<circle cx="1040.0" cy="790.4" r="26.7"/>
<circle cx="1046.0" cy="692.4" r="26.7"/>
<circle cx="1045.5" cy="706.9" r="26.7"/>
<circle cx="1046.3" cy="718.8" r="26.7"/>
<circle cx="1046.3" cy="722.9" r="26.7"/>
<circle cx="1046.8" cy="722.7" r="26.7"/>
<circle cx="1045.4" cy="729.6" r="26.7"/>
<circle cx="1046.7" cy="740.2" r="26.7"/>
<circle cx="1046.7" cy="745.6" r="26.7"/>
<circle cx="1046.9" cy="750.7" r="26.7"/>
<circle cx="1046.9" cy="759.7" r="26.7"/>
<circle cx="1046.6" cy="764.2" r="26.7"/>
<circle cx="1045.6" cy="765.6" r="26.7"/>
<circle cx="1046.1" cy="763.7" r="26.7"/>
<circle cx="1046.7" cy="769.8" r="26.7"/>
<circle cx="1046.0" cy="794.7" r="26.7"/>
<circle cx="1052.2" cy="697.9" r="26.7"/>
<circle cx="1051.5" cy="708.9" r="26.7"/>
<circle cx="1052.1" cy="722.7" r="26.7"/>
<circle cx="1053.2" cy="724.5" r="26.7"/>
<circle cx="1051.6" cy="727.9" r="26.7"/>
<circle cx="1051.8" cy="733.2" r="26.7"/>
<circle cx="1052.4" cy="742.6" r="26.7"/>
<circle cx="1052.6" cy="746.1" r="26.7"/>
<circle cx="1053.1" cy="755.2" r="26.7"/>
<circle cx="1052.5" cy="764.6" r="26.7"/>
<circle cx="1052.3" cy="762.2" r="26.7"/>
<circle cx="1052.5" cy="766.2" r="26.7"/>
<circle cx="1051.9" cy="769.1" r="26.7"/>
<circle cx="1053.1" cy="772.9" r="26.7"/>
<circle cx="1052.2" cy="795.6" r="26.7"/>
<circle cx="1061.0" cy="701.5" r="26.7"/>
<circle cx="1061.8" cy="713.1" r="26.7"/>
<circle cx="1060.2" cy="730.6" r="26.7"/>
<circle cx="1060.6" cy="732.7" r="26.7"/>
<circle cx="1061.0" cy="732.2" r="26.7"/>
<circle cx="1062.0" cy="737.5" r="26.7"/>
<circle cx="1061.8" cy="746.6" r="26.7"/>
<circle cx="1061.9" cy="754.2" r="26.7"/>
<circle cx="1061.0" cy="758.2" r="26.7"/>
<circle cx="1061.5" cy="770.9" r="26.7"/>
<circle cx="1059.9" cy="770.2" r="26.7"/>
<circle cx="1061.1" cy="773.2" r="26.7"/>
<circle cx="1061.3" cy="773.3" r="26.7"/>
<circle cx="1061.3" cy="778.7" r="26.7"/>
<circle cx="1061.0" cy="803.2" r="26.7"/>
<circle cx="1070.0" cy="706.1" r="26.7"/>
<circle cx="1068.8" cy="720.6" r="26.7"/>
<circle cx="1069.4" cy="732.1" r="26.7"/>
<circle cx="1070.7" cy="737.4" r="26.7"/>
<circle cx="1069.8" cy="740.2" r="26.7"/>
<circle cx="1070.5" cy="741.0" r="26.7"/>
<circle cx="1070.6" cy="751.9" r="26.7"/>
<circle cx="1070.3" cy="758.1" r="26.7"/>
<circle cx="1069.0" cy="763.4" r="26.7"/>
<circle cx="1068.9" cy="773.3" r="26.7"/>
<circle cx="1070.2" cy="772.9" r="26.7"/>
<circle cx="1069.0" cy="776.3" r="26.7"/>
<circle cx="1069.0" cy="780.4" r="26.7"/>
<circle cx="1069.7" cy="782.6" r="26.7"/>
<circle cx="1070.0" cy="807.9" r="26.7"/>
<circle cx="1077.5" cy="712.2" r="26.7"/>
<circle cx="1076.9" cy="723.7" r="26.7"/>
<circle cx="1077.6" cy="741.9" r="26.7"/>
<circle cx="1078.3" cy="741.5" r="26.7"/>
<circle cx="1077.3" cy="746.4" r="26.7"/>
<circle cx="1078.2" cy="749.9" r="26.7"/>
<circle cx="1076.9" cy="755.9" r="26.7"/>
<circle cx="1078.4" cy="765.7" r="26.7"/>
<circle cx="1076.7" cy="770.0" r="26.7"/>
<circle cx="1077.2" cy="777.2" r="26.7"/>
<circle cx="1077.7" cy="779.0" r="26.7"/>
<circle cx="1076.9" cy="783.5" r="26.7"/>
<circle cx="1078.2" cy="783.4" r="26.7"/>
<circle cx="1076.4" cy="787.7" r="26.7"/>
<circle cx="1077.5" cy="813.9" r="26.7"/>
<circle cx="1084.5" cy="715.2" r="26.7"/>
<circle cx="1084.9" cy="730.6" r="26.7"/>
<circle cx="1084.3" cy="744.4" r="26.7"/>
<circle cx="1085.5" cy="746.7" r="26.7"/>
<circle cx="1084.0" cy="748.6" r="26.7"/>
<circle cx="1085.0" cy="750.8" r="26.7"/>
<circle cx="1084.6" cy="763.9" r="26.7"/>
<circle cx="1083.9" cy="766.8" r="26.7"/>
<circle cx="1085.2" cy="773.5" r="26.7"/>
<circle cx="1085.2" cy="784.4" r="26.7"/>
<circle cx="1084.3" cy="784.7" r="26.7"/>
<circle cx="1085.7" cy="785.7" r="26.7"/>
<circle cx="1083.7" cy="791.2" r="26.7"/>
<circle cx="1084.7" cy="791.6" r="26.7"/>
<circle cx="1084.5" cy="818.0" r="26.7"/>
<circle cx="1090.7" cy="717.4" r="26.7"/>
<circle cx="1090.9" cy="732.7" r="26.7"/>
<circle cx="1090.0" cy="747.0" r="26.7"/>
<circle cx="1089.7" cy="752.0" r="26.7"/>
<circle cx="1091.3" cy="753.9" r="26.7"/>
<circle cx="1091.9" cy="757.3" r="26.7"/>
<circle cx="1091.7" cy="768.7" r="26.7"/>
<circle cx="1091.8" cy="775.8" r="26.7"/>
<circle cx="1090.9" cy="780.8" r="26.7"/>
<circle cx="1090.0" cy="792.8" r="26.7"/>
<circle cx="1090.6" cy="795.8" r="26.7"/>
<circle cx="1091.6" cy="797.2" r="26.7"/>
<circle cx="1090.3" cy="798.4" r="26.7"/>
<circle cx="1091.6" cy="803.8" r="26.7"/>
<circle cx="1090.7" cy="829.2" r="26.7"/>
<circle cx="1096.0" cy="722.1" r="26.7"/>
<circle cx="1096.9" cy="737.5" r="26.7"/>
<circle cx="1095.6" cy="752.6" r="26.7"/>
<circle cx="1095.9" cy="750.9" r="26.7"/>
<circle cx="1095.6" cy="752.7" r="26.7"/>
<circle cx="1095.7" cy="759.2" r="26.7"/>
<circle cx="1096.0" cy="771.5" r="26.7"/>
<circle cx="1095.6" cy="777.6" r="26.7"/>
<circle cx="1097.2" cy="779.5" r="26.7"/>
<circle cx="1096.3" cy="788.9" r="26.7"/>
<circle cx="1095.7" cy="791.1" r="26.7"/>
<circle cx="1097.0" cy="794.0" r="26.7"/>
<circle cx="1096.8" cy="796.1" r="26.7"/>
<circle cx="1095.9" cy="800.7" r="26.7"/>
<circle cx="1096.0" cy="826.4" r="26.7"/>
<circle cx="1100.4" cy="724.5" r="26.7"/>
<circle cx="1100.7" cy="737.7" r="26.7"/>
<circle cx="1099.2" cy="754.5" r="26.7"/>
<circle cx="1100.0" cy="753.6" r="26.7"/>
<circle cx="1101.1" cy="760.5" r="26.7"/>
<circle cx="1100.4" cy="765.3" r="26.7"/>
<circle cx="1100.1" cy="772.8" r="26.7"/>
<circle cx="1101.4" cy="779.0" r="26.7"/>
<circle cx="1100.8" cy="783.5" r="26.7"/>
<circle cx="1101.0" cy="794.5" r="26.7"/>
<circle cx="1100.6" cy="798.6" r="26.7"/>
<circle cx="1099.6" cy="799.3" r="26.7"/>
<circle cx="1099.4" cy="802.5" r="26.7"/>
<circle cx="1100.8" cy="802.6" r="26.7"/>
<circle cx="1100.4" cy="830.6" r="26.7"/>
<circle cx="1108.0" cy="729.5" r="26.7"/>
<circle cx="1108.5" cy="744.3" r="26.7"/>
<circle cx="1107.5" cy="758.4" r="26.7"/>
<circle cx="1106.9" cy="761.7" r="26.7"/>
<circle cx="1108.7" cy="765.7" r="26.7"/>
<circle cx="1107.0" cy="771.4" r="26.7"/>
<circle cx="1107.4" cy="780.9" r="26.7"/>
<circle cx="1108.7" cy="784.6" r="26.7"/>
<circle cx="1108.8" cy="793.6" r="26.7"/>
<circle cx="1107.0" cy="802.1" r="26.7"/>
<circle cx="1107.4" cy="805.3" r="26.7"/>
<circle cx="1107.5" cy="807.5" r="26.7"/>
<circle cx="1108.9" cy="807.8" r="26.7"/>
<circle cx="1108.6" cy="812.5" r="26.7"/>
<circle cx="1108.0" cy="840.5" r="26.7"/>
<circle cx="1115.3" cy="732.7" r="26.7"/>
<circle cx="1116.2" cy="749.8" r="26.7"/>
<circle cx="1114.2" cy="762.5" r="26.7"/>
<circle cx="1114.6" cy="766.4" r="26.7"/>
<circle cx="1116.3" cy="766.9" r="26.7"/>
<circle cx="1115.4" cy="775.0" r="26.7"/>
<circle cx="1115.8" cy="784.4" r="26.7"/>
<circle cx="1114.6" cy="788.9" r="26.7"/>
<circle cx="1115.6" cy="798.5" r="26.7"/>
<circle cx="1115.5" cy="806.7" r="26.7"/>
<circle cx="1115.2" cy="809.9" r="26.7"/>
<circle cx="1115.5" cy="812.1" r="26.7"/>
<circle cx="1115.8" cy="810.2" r="26.7"/>
<circle cx="1115.6" cy="815.6" r="26.7"/>
<circle cx="1115.3" cy="843.3" r="26.7"/>
<circle cx="1122.4" cy="736.7" r="26.7"/>
<circle cx="1121.2" cy="751.9" r="26.7"/>
<circle cx="1121.8" cy="765.5" r="26.7"/>
<circle cx="1123.2" cy="769.5" r="26.7"/>
<circle cx="1122.1" cy="772.2" r="26.7"/>
<circle cx="1121.4" cy="775.0" r="26.7"/>
<circle cx="1122.8" cy="788.5" r="26.7"/>
<circle cx="1122.0" cy="792.9" r="26.7"/>
<circle cx="1121.5" cy="797.1" r="26.7"/>
<circle cx="1121.9" cy="810.4" r="26.7"/>
<circle cx="1121.8" cy="812.4" r="26.7"/>
<circle cx="1123.0" cy="814.2" r="26.7"/>
<circle cx="1121.3" cy="814.1" r="26.7"/>
<circle cx="1123.3" cy="817.7" r="26.7"/>
<circle cx="1122.4" cy="846.1" r="26.7"/>
<circle cx="1228.8" cy="793.3" r="26.7"/>
<circle cx="1229.9" cy="809.5" r="26.7"/>
<circle cx="1229.4" cy="829.2" r="26.7"/>
<circle cx="1228.7" cy="831.0" r="26.7"/>
<circle cx="1227.8" cy="835.7" r="26.7"/>
<circle cx="1228.1" cy="842.1" r="26.7"/>
<circle cx="1228.2" cy="851.8" r="26.7"/>
<circle cx="1229.7" cy="860.4" r="26.7"/>
<circle cx="1228.1" cy="865.8" r="26.7"/>
<circle cx="1228.0" cy="880.1" r="26.7"/>
<circle cx="1228.7" cy="883.1" r="26.7"/>
<circle cx="1227.8" cy="885.0" r="26.7"/>
<circle cx="1228.0" cy="886.1" r="26.7"/>
<circle cx="1229.2" cy="890.8" r="26.7"/>
<circle cx="1228.8" cy="923.1" r="26.7"/>
<circle cx="1241.2" cy="803.6" r="26.7"/>
<circle cx="1242.0" cy="818.9" r="26.7"/>
<circle cx="1242.0" cy="838.0" r="26.7"/>
<circle cx="1241.0" cy="839.4" r="26.7"/>
<circle cx="1242.2" cy="842.4" r="26.7"/>
<circle cx="1240.9" cy="851.1" r="26.7"/>
<circle cx="1240.9" cy="861.5" r="26.7"/>
<circle cx="1240.9" cy="869.0" r="26.7"/>
<circle cx="1241.3" cy="876.2" r="26.7"/>
<circle cx="1240.4" cy="887.9" r="26.7"/>
<circle cx="1242.0" cy="886.5" r="26.7"/>
<circle cx="1240.0" cy="889.8" r="26.7"/>
<circle cx="1240.9" cy="891.3" r="26.7"/>
<circle cx="1242.0" cy="898.1" r="26.7"/>
<circle cx="1241.2" cy="929.3" r="26.7"/>
<circle cx="1261.5" cy="815.8" r="26.7"/>
<circle cx="1261.9" cy="825.2" r="26.7"/>
<circle cx="1260.9" cy="833.7" r="26.7"/>
<circle cx="1260.8" cy="839.7" r="26.7"/>
<circle cx="1262.5" cy="848.9" r="26.7"/>
<circle cx="1261.7" cy="851.3" r="26.7"/>
<circle cx="1262.2" cy="856.8" r="26.7"/>
<circle cx="1260.9" cy="859.8" r="26.7"/>
<circle cx="1262.1" cy="865.8" r="26.7"/>
<circle cx="1260.7" cy="871.2" r="26.7"/>
<circle cx="1262.0" cy="880.6" r="26.7"/>
<circle cx="1260.6" cy="886.7" r="26.7"/>
<circle cx="1261.5" cy="889.6" r="26.7"/>
<circle cx="1260.3" cy="897.2" r="26.7"/>
<circle cx="1260.8" cy="899.1" r="26.7"/>
<circle cx="1260.4" cy="902.4" r="26.7"/>
<circle cx="1260.7" cy="905.0" r="26.7"/>
<circle cx="1261.5" cy="908.5" r="26.7"/>
<circle cx="1261.2" cy="922.8" r="26.7"/>
<circle cx="1261.5" cy="942.1" r="26.7"/>
<circle cx="1268.2" cy="820.0" r="26.7"/>
<circle cx="1267.5" cy="829.7" r="26.7"/>
<circle cx="1267.7" cy="837.7" r="26.7"/>
<circle cx="1267.9" cy="847.5" r="26.7"/>
<circle cx="1268.3" cy="856.1" r="26.7"/>
<circle cx="1268.0" cy="861.2" r="26.7"/>
<circle cx="1267.2" cy="861.5" r="26.7"/>
<circle cx="1269.4" cy="868.9" r="26.7"/>
<circle cx="1268.2" cy="872.1" r="26.7"/>
<circle cx="1268.5" cy="882.0" r="26.7"/>
<circle cx="1269.4" cy="889.6" r="26.7"/>
<circle cx="1269.0" cy="895.9" r="26.7"/>
<circle cx="1268.8" cy="902.4" r="26.7"/>
<circle cx="1267.5" cy="910.2" r="26.7"/>
<circle cx="1268.3" cy="912.7" r="26.7"/>
<circle cx="1267.8" cy="910.4" r="26.7"/>
<circle cx="1267.7" cy="913.8" r="26.7"/>
<circle cx="1267.9" cy="919.4" r="26.7"/>
<circle cx="1267.5" cy="932.6" r="26.7"/>
<circle cx="1268.2" cy="953.1" r="26.7"/>
<circle cx="1308.9" cy="843.8" r="26.7"/>
<circle cx="1307.8" cy="863.0" r="26.7"/>
<circle cx="1310.1" cy="885.7" r="26.7"/>
<circle cx="1309.3" cy="888.5" r="26.7"/>
<circle cx="1309.9" cy="893.3" r="26.7"/>
<circle cx="1309.6" cy="901.2" r="26.7"/>
<circle cx="1307.8" cy="913.8" r="26.7"/>
<circle cx="1309.6" cy="920.6" r="26.7"/>
<circle cx="1308.3" cy="928.6" r="26.7"/>
<circle cx="1309.4" cy="943.7" r="26.7"/>
<circle cx="1309.8" cy="949.4" r="26.7"/>
<circle cx="1308.5" cy="953.6" r="26.7"/>
<circle cx="1307.9" cy="956.1" r="26.7"/>
<circle cx="1309.2" cy="956.3" r="26.7"/>
<circle cx="1308.9" cy="997.2" r="26.7"/>
<circle cx="1322.4" cy="851.5" r="26.7"/>
<circle cx="1321.4" cy="857.8" r="26.7"/>
<circle cx="1322.8" cy="864.4" r="26.7"/>
<circle cx="1321.8" cy="871.6" r="26.7"/>
<circle cx="1321.5" cy="877.5" r="26.7"/>
<circle cx="1322.5" cy="886.4" r="26.7"/>
<circle cx="1321.3" cy="894.5" r="26.7"/>
<circle cx="1323.5" cy="898.8" r="26.7"/>
<circle cx="1323.5" cy="901.5" r="26.7"/>
<circle cx="1321.4" cy="907.0" r="26.7"/>
<circle cx="1322.1" cy="914.7" r="26.7"/>
<circle cx="1321.8" cy="922.7" r="26.7"/>
<circle cx="1323.4" cy="931.0" r="26.7"/>
<circle cx="1323.5" cy="936.4" r="26.7"/>
<circle cx="1321.6" cy="937.2" r="26.7"/>
<circle cx="1321.3" cy="946.9" r="26.7"/>
<circle cx="1321.4" cy="949.9" r="26.7"/>
<circle cx="1322.1" cy="957.4" r="26.7"/>
<circle cx="1321.8" cy="956.9" r="26.7"/>
<circle cx="1322.0" cy="961.7" r="26.7"/>
<circle cx="1321.2" cy="965.4" r="26.7"/>
<circle cx="1321.8" cy="971.4" r="26.7"/>
<circle cx="1322.5" cy="982.8" r="26.7"/>
<circle cx="1322.4" cy="1003.5" r="26.7"/>
<circle cx="1336.9" cy="859.4" r="26.7"/>
<circle cx="1335.8" cy="867.9" r="26.7"/>
<circle cx="1338.0" cy="873.0" r="26.7"/>
<circle cx="1337.7" cy="877.7" r="26.7"/>
<circle cx="1337.7" cy="887.4" r="26.7"/>
<circle cx="1336.0" cy="896.5" r="26.7"/>
<circle cx="1336.7" cy="906.4" r="26.7"/>
<circle cx="1337.4" cy="909.6" r="26.7"/>
<circle cx="1335.9" cy="906.8" r="26.7"/>
<circle cx="1337.2" cy="915.7" r="26.7"/>
<circle cx="1335.9" cy="926.5" r="26.7"/>
<circle cx="1336.3" cy="928.4" r="26.7"/>
<circle cx="1337.9" cy="941.0" r="26.7"/>
<circle cx="1336.4" cy="944.6" r="26.7"/>
<circle cx="1336.5" cy="952.1" r="26.7"/>
<circle cx="1337.2" cy="957.9" r="26.7"/>
<circle cx="1337.9" cy="962.3" r="26.7"/>
<circle cx="1336.7" cy="968.4" r="26.7"/>
<circle cx="1335.9" cy="968.8" r="26.7"/>
<circle cx="1336.9" cy="971.3" r="26.7"/>
<circle cx="1336.2" cy="980.3" r="26.7"/>
<circle cx="1337.9" cy="986.3" r="26.7"/>
<circle cx="1337.8" cy="997.7" r="26.7"/>
<circle cx="1336.9" cy="1018.0" r="26.7"/>
<circle cx="1346.2" cy="863.1" r="26.7"/>
<circle cx="1346.5" cy="872.6" r="26.7"/>
<circle cx="1347.3" cy="877.1" r="26.7"/>
<circle cx="1347.1" cy="881.3" r="26.7"/>
<circle cx="1345.3" cy="892.4" r="26.7"/>
<circle cx="1345.9" cy="895.2" r="26.7"/>
<circle cx="1347.1" cy="909.6" r="26.7"/>
<circle cx="1346.0" cy="910.9" r="26.7"/>
<circle cx="1346.2" cy="911.7" r="26.7"/>
<circle cx="1346.2" cy="918.7" r="26.7"/>
<circle cx="1345.1" cy="925.6" r="26.7"/>
<circle cx="1346.8" cy="932.3" r="26.7"/>
<circle cx="1346.7" cy="941.6" r="26.7"/>
<circle cx="1346.5" cy="948.7" r="26.7"/>
<circle cx="1345.8" cy="952.1" r="26.7"/>
<circle cx="1346.4" cy="961.9" r="26.7"/>
<circle cx="1346.7" cy="965.8" r="26.7"/>
<circle cx="1347.2" cy="967.8" r="26.7"/>
<circle cx="1346.8" cy="972.2" r="26.7"/>
<circle cx="1346.2" cy="972.8" r="26.7"/>
<circle cx="1345.3" cy="977.7" r="26.7"/>
<circle cx="1345.8" cy="989.2" r="26.7"/>
<circle cx="1345.6" cy="1002.8" r="26.7"/>
<circle cx="1346.2" cy="1019.1" r="26.7"/>
<circle cx="1358.3" cy="870.4" r="26.7"/>
<circle cx="1357.2" cy="875.5" r="26.7"/>
<circle cx="1358.4" cy="887.0" r="26.7"/>
<circle cx="1357.2" cy="891.2" r="26.7"/>
<circle cx="1358.0" cy="898.4" r="26.7"/>
<circle cx="1359.5" cy="904.4" r="26.7"/>
<circle cx="1357.6" cy="915.0" r="26.7"/>
<circle cx="1358.2" cy="920.1" r="26.7"/>
<circle cx="1358.3" cy="922.5" r="26.7"/>
<circle cx="1359.3" cy="929.3" r="26.7"/>
<circle cx="1358.3" cy="934.1" r="26.7"/>
<circle cx="1359.0" cy="941.0" r="26.7"/>
<circle cx="1359.4" cy="948.7" r="26.7"/>
<circle cx="1358.5" cy="953.8" r="26.7"/>
<circle cx="1358.3" cy="962.6" r="26.7"/>
<circle cx="1357.4" cy="967.2" r="26.7"/>
<circle cx="1359.4" cy="972.5" r="26.7"/>
<circle cx="1359.3" cy="981.4" r="26.7"/>
<circle cx="1359.3" cy="979.1" r="26.7"/>
<circle cx="1358.1" cy="984.6" r="26.7"/>
<circle cx="1358.9" cy="990.6" r="26.7"/>
<circle cx="1357.2" cy="999.4" r="26.7"/>
<circle cx="1359.4" cy="1011.3" r="26.7"/>
<circle cx="1358.3" cy="1030.0" r="26.7"/>
<circle cx="1363.2" cy="875.3" r="26.7"/>
<circle cx="1363.8" cy="880.3" r="26.7"/>
<circle cx="1362.8" cy="889.4" r="26.7"/>
<circle cx="1362.0" cy="896.6" r="26.7"/>
<circle cx="1363.6" cy="903.2" r="26.7"/>
<circle cx="1364.0" cy="909.7" r="26.7"/>
<circle cx="1363.2" cy="920.7" r="26.7"/>
<circle cx="1362.0" cy="923.6" r="26.7"/>
<circle cx="1362.4" cy="926.0" r="26.7"/>
<circle cx="1363.5" cy="934.0" r="26.7"/>
<circle cx="1363.8" cy="944.2" r="26.7"/>
<circle cx="1362.3" cy="949.5" r="26.7"/>
<circle cx="1364.3" cy="958.5" r="26.7"/>
<circle cx="1362.2" cy="963.2" r="26.7"/>
<circle cx="1363.6" cy="969.6" r="26.7"/>
<circle cx="1362.6" cy="974.8" r="26.7"/>
<circle cx="1363.2" cy="982.2" r="26.7"/>
<circle cx="1362.1" cy="982.3" r="26.7"/>
<circle cx="1363.0" cy="989.7" r="26.7"/>
<circle cx="1362.4" cy="993.7" r="26.7"/>
<circle cx="1362.3" cy="994.2" r="26.7"/>
<circle cx="1362.0" cy="1007.1" r="26.7"/>
<circle cx="1363.3" cy="1015.3" r="26.7"/>
<circle cx="1363.2" cy="1036.9" r="26.7"/>
<circle cx="1368.9" cy="875.5" r="26.7"/>
<circle cx="1368.0" cy="880.9" r="26.7"/>
<circle cx="1369.5" cy="891.1" r="26.7"/>
<circle cx="1369.6" cy="894.4" r="26.7"/>
<circle cx="1368.4" cy="902.0" r="26.7"/>
<circle cx="1369.7" cy="913.7" r="26.7"/>
<circle cx="1368.0" cy="918.7" r="26.7"/>
<circle cx="1369.8" cy="924.7" r="26.7"/>
<circle cx="1368.0" cy="929.5" r="26.7"/>
<circle cx="1369.9" cy="932.7" r="26.7"/>
<circle cx="1368.8" cy="944.3" r="26.7"/>
<circle cx="1368.5" cy="946.2" r="26.7"/>
<circle cx="1369.0" cy="960.3" r="26.7"/>
<circle cx="1369.6" cy="962.7" r="26.7"/>
<circle cx="1368.4" cy="965.6" r="26.7"/>
<circle cx="1369.0" cy="977.5" r="26.7"/>
<circle cx="1369.5" cy="983.8" r="26.7"/>
<circle cx="1368.7" cy="983.7" r="26.7"/>
<circle cx="1369.5" cy="990.5" r="26.7"/>
<circle cx="1367.9" cy="993.4" r="26.7"/>
<circle cx="1369.7" cy="999.4" r="26.7"/>
<circle cx="1368.1" cy="1006.4" r="26.7"/>
<circle cx="1367.8" cy="1018.4" r="26.7"/>
<circle cx="1368.9" cy="1038.0" r="26.7"/>
<circle cx="1385.8" cy="886.3" r="26.7"/>
<circle cx="1386.8" cy="905.8" r="26.7"/>
<circle cx="1385.9" cy="936.4" r="26.7"/>
<circle cx="1384.9" cy="933.2" r="26.7"/>
<circle cx="1386.0" cy="941.9" r="26.7"/>
<circle cx="1386.7" cy="948.2" r="26.7"/>
<circle cx="1384.8" cy="959.6" r="26.7"/>
<circle cx="1386.5" cy="969.2" r="26.7"/>
<circle cx="1386.8" cy="983.7" r="26.7"/>
<circle cx="1384.7" cy="996.0" r="26.7"/>
<circle cx="1385.1" cy="1004.2" r="26.7"/>
<circle cx="1386.6" cy="1003.2" r="26.7"/>
<circle cx="1385.0" cy="1004.7" r="26.7"/>
<circle cx="1385.0" cy="1015.7" r="26.7"/>
<circle cx="1385.8" cy="1055.5" r="26.7"/>
<circle cx="1466.8" cy="940.1" r="26.7"/>
<circle cx="1466.8" cy="963.1" r="26.7"/>
<circle cx="1466.8" cy="988.9" r="26.7"/>
<circle cx="1466.8" cy="992.2" r="26.7"/>
<circle cx="1466.8" cy="995.4" r="26.7"/>
<circle cx="1466.8" cy="1003.5" r="26.7"/>
<circle cx="1466.8" cy="1019.2" r="26.7"/>
<circle cx="1466.8" cy="1029.2" r="26.7"/>
<circle cx="1466.8" cy="1040.1" r="26.7"/>
<circle cx="1466.8" cy="1055.6" r="26.7"/>
<circle cx="1466.8" cy="1059.1" r="26.7"/>
<circle cx="1466.8" cy="1062.4" r="26.7"/>
<circle cx="1466.8" cy="1065.9" r="26.7"/>
<circle cx="1466.8" cy="1071.4" r="26.7"/>
<circle cx="1466.8" cy="1115.6" r="26.7"/>
</g>
<g class="s">
<rect x="246.5" y="380.2" width="40.2" height="40.2"/>
<rect x="246.5" y="383.4" width="40.2" height="40.2"/>
<rect x="263.2" y="380.2" width="40.2" height="40.2"/>
<rect x="263.2" y="383.4" width="40.2" height="40.2"/>
<rect x="273.8" y="380.2" width="40.2" height="40.2"/>
<rect x="273.8" y="383.4" width="40.2" height="40.2"/>
<rect x="407.5" y="380.2" width="40.2" height="40.2"/>
<rect x="407.5" y="383.4" width="40.2" height="40.2"/>
<rect x="443.2" y="380.2" width="40.2" height="40.2"/>
<rect x="443.2" y="383.4" width="40.2" height="40.2"/>
<rect x="510.9" y="380.2" width="40.2" height="40.2"/>
<rect x="510.9" y="383.4" width="40.2" height="40.2"/>
<rect x="521.9" y="380.2" width="40.2" height="40.2"/>
<rect x="521.9" y="383.4" width="40.2" height="40.2"/>
<rect x="532.9" y="380.2" width="40.2" height="40.2"/>
<rect x="532.9" y="383.4" width="40.2" height="40.2"/>
<rect x="544.9" y="380.2" width="40.2" height="40.2"/>
<rect x="544.9" y="383.4" width="40.2" height="40.2"/>
<rect x="555.9" y="380.2" width="40.2" height="40.2"/>
<rect x="555.9" y="383.4" width="40.2" height="40.2"/>
<rect x="567.9" y="380.2" width="40.2" height="40.2"/>
<rect x="567.9" y="383.4" width="40.2" height="40.2"/>
<rect x="579.9" y="380.2" width="40.2" height="40.2"/>
<rect x="579.9" y="383.4" width="40.2" height="40.2"/>
<rect x="697.6" y="380.2" width="40.2" height="40.2"/>
<rect x="697.6" y="383.4" width="40.2" height="40.2"/>
<rect x="724.6" y="380.2" width="40.2" height="40.2"/>
<rect x="724.6" y="383.4" width="40.2" height="40.2"/>
<rect x="739.5" y="380.2" width="40.2" height="40.2"/>
<rect x="739.5" y="383.4" width="40.2" height="40.2"/>
<rect x="750.2" y="380.2" width="40.2" height="40.2"/>
<rect x="750.2" y="383.4" width="40.2" height="40.2"/>
<rect x="756.6" y="380.2" width="40.2" height="40.2"/>
<rect x="756.6" y="383.4" width="40.2" height="40.2"/>
<rect x="763.7" y="380.2" width="40.2" height="40.2"/>
<rect x="763.7" y="383.4" width="40.2" height="40.2"/>
<rect x="772.2" y="380.2" width="40.2" height="40.2"/>
<rect x="772.2" y="383.4" width="40.2" height="40.2"/>
<rect x="777.9" y="380.2" width="40.2" height="40.2"/>
<rect x="777.9" y="383.4" width="40.2" height="40.2"/>
<rect x="786.4" y="380.2" width="40.2" height="40.2"/>
<rect x="786.4" y="383.4" width="40.2" height="40.2"/>
<rect x="797.1" y="380.2" width="40.2" height="40.2"/>
<rect x="797.1" y="383.4" width="40.2" height="40.2"/>
<rect x="803.5" y="380.2" width="40.2" height="40.2"/>
<rect x="803.5" y="383.4" width="40.2" height="40.2"/>
<rect x="814.9" y="380.2" width="40.2" height="40.2"/>
<rect x="814.9" y="383.4" width="40.2" height="40.2"/>
<rect x="823.4" y="380.2" width="40.2" height="40.2"/>
<rect x="823.4" y="383.4" width="40.2" height="40.2"/>
<rect x="829.8" y="380.2" width="40.2" height="40.2"/>
<rect x="829.8" y="383.4" width="40.2" height="40.2"/>
<rect x="835.5" y="380.2" width="40.2" height="40.2"/>
<rect x="835.5" y="383.4" width="40.2" height="40.2"/>
<rect x="843.3" y="380.2" width="40.2" height="40.2"/>
<rect x="843.3" y="383.4" width="40.2" height="40.2"/>
<rect x="851.9" y="380.2" width="40.2" height="40.2"/>
<rect x="851.9" y="383.4" width="40.2" height="40.2"/>
<rect x="957.6" y="380.2" width="40.2" height="40.2"/>
<rect x="957.6" y="383.4" width="40.2" height="40.2"/>
<rect x="961.8" y="380.2" width="40.2" height="40.2"/>
<rect x="961.8" y="383.4" width="40.2" height="40.2"/>
<rect x="970.4" y="380.2" width="40.2" height="40.2"/>
<rect x="970.4" y="383.4" width="40.2" height="40.2"/>
<rect x="979.2" y="380.2" width="40.2" height="40.2"/>
<rect x="979.2" y="383.4" width="40.2" height="40.2"/>
<rect x="988.6" y="380.2" width="40.2" height="40.2"/>
<rect x="988.6" y="383.4" width="40.2" height="40.2"/>
<rect x="997.9" y="380.2" width="40.2" height="40.2"/>
<rect x="997.9" y="383.4" width="40.2" height="40.2"/>
<rect x="1007.4" y="380.2" width="40.2" height="40.2"/>
<rect x="1007.4" y="383.4" width="40.2" height="40.2"/>
<rect x="1016.4" y="380.2" width="40.2" height="40.2"/>
<rect x="1016.4" y="383.4" width="40.2" height="40.2"/>
<rect x="1019.9" y="380.2" width="40.2" height="40.2"/>
<rect x="1019.9" y="383.4" width="40.2" height="40.2"/>
<rect x="1025.9" y="380.2" width="40.2" height="40.2"/>
<rect x="1025.9" y="383.4" width="40.2" height="40.2"/>
<rect x="1032.1" y="380.2" width="40.2" height="40.2"/>
<rect x="1032.1" y="383.4" width="40.2" height="40.2"/>
<rect x="1040.9" y="380.2" width="40.2" height="40.2"/>
<rect x="1040.9" y="383.4" width="40.2" height="40.2"/>
<rect x="1049.9" y="380.2" width="40.2" height="40.2"/>
<rect x="1049.9" y="383.4" width="40.2" height="40.2"/>
<rect x="1057.4" y="380.2" width="40.2" height="40.2"/>
<rect x="1057.4" y="383.4" width="40.2" height="40.2"/>
<rect x="1064.4" y="380.2" width="40.2" height="40.2"/>
<rect x="1064.4" y="383.4" width="40.2" height="40.2"/>
<rect x="1070.6" y="380.2" width="40.2" height="40.2"/>
<rect x="1070.6" y="383.4" width="40.2" height="40.2"/>
<rect x="1075.9" y="380.2" width="40.2" height="40.2"/>
<rect x="1075.9" y="383.4" width="40.2" height="40.2"/>
<rect x="1080.3" y="380.2" width="40.2" height="40.2"/>
<rect x="1080.3" y="383.4" width="40.2" height="40.2"/>
<rect x="1087.9" y="380.2" width="40.2" height="40.2"/>
<rect x="1087.9" y="383.4" width="40.2" height="40.2"/>
<rect x="1095.2" y="380.2" width="40.2" height="40.2"/>
<rect x="1095.2" y="383.4" width="40.2" height="40.2"/>
<rect x="1102.3" y="380.2" width="40.2" height="40.2"/>
<rect x="1102.3" y="383.4" width="40.2" height="40.2"/>
<rect x="1208.7" y="380.2" width="40.2" height="40.2"/>
<rect x="1208.7" y="383.4" width="40.2" height="40.2"/>
<rect x="1221.1" y="380.2" width="40.2" height="40.2"/>
<rect x="1221.1" y="383.4" width="40.2" height="40.2"/>
<rect x="1241.4" y="380.2" width="40.2" height="40.2"/>
<rect x="1241.4" y="383.4" width="40.2" height="40.2"/>
<rect x="1248.1" y="380.2" width="40.2" height="40.2"/>
<rect x="1248.1" y="383.4" width="40.2" height="40.2"/>
<rect x="1288.8" y="380.2" width="40.2" height="40.2"/>
<rect x="1288.8" y="383.4" width="40.2" height="40.2"/>
<rect x="1302.3" y="380.2" width="40.2" height="40.2"/>
<rect x="1302.3" y="383.4" width="40.2" height="40.2"/>
<rect x="1316.8" y="380.2" width="40.2" height="40.2"/>
<rect x="1316.8" y="383.4" width="40.2" height="40.2"/>
<rect x="1326.1" y="380.2" width="40.2" height="40.2"/>
<rect x="1326.1" y="383.4" width="40.2" height="40.2"/>
<rect x="1338.2" y="380.2" width="40.2" height="40.2"/>
<rect x="1338.2" y="383.4" width="40.2" height="40.2"/>
<rect x="1343.1" y="380.2" width="40.2" height="40.2"/>
<rect x="1343.1" y="383.4" width="40.2" height="40.2"/>
<rect x="1348.8" y="380.2" width="40.2" height="40.2"/>
<rect x="1348.8" y="383.4" width="40.2" height="40.2"/>
<rect x="1367.2" y="380.2" width="40.2" height="40.2"/>
<rect x="1367.2" y="383.4" width="40.2" height="40.2"/>
<rect x="1446.7" y="380.2" width="40.2" height="40.2"/>
<rect x="1446.7" y="383.4" width="40.2" height="40.2"/>
</g>
<path class="p" d="M239.6 401.9h54M266.6 374.9v54M256.3 401.9h54M283.3 374.9v54M266.9 401.9h54M293.9 374.9v54M400.6 401.9h54M427.6 374.9v54M436.3 401.9h54M463.3 374.9v54M504.0 401.9h54M531.0 374.9v54M515.0 401.9h54M542.0 374.9v54M526.0 401.9h54M553.0 374.9v54M538.0 401.9h54M565.0 374.9v54M549.0 401.9h54M576.0 374.9v54M561.0 401.9h54M588.0 374.9v54M573.0 401.9h54M600.0 374.9v54M690.7 401.9h54M717.7 374.9v54M717.7 401.9h54M744.7 374.9v54M732.6 401.9h54M759.6 374.9v54M743.3 401.9h54M770.3 374.9v54M749.7 401.9h54M776.7 374.9v54M756.8 401.9h54M783.8 374.9v54M765.3 401.9h54M792.3 374.9v54M771.0 401.9h54M798.0 374.9v54M779.5 401.9h54M806.5 374.9v54M790.2 401.9h54M817.2 374.9v54M796.6 401.9h54M823.6 374.9v54M808.0 401.9h54M835.0 374.9v54M816.5 401.9h54M843.5 374.9v54M822.9 401.9h54M849.9 374.9v54M828.6 401.9h54M855.6 374.9v54M836.4 401.9h54M863.4 374.9v54M845.0 401.9h54M872.0 374.9v54M950.7 401.9h54M977.7 374.9v54M954.9 401.9h54M981.9 374.9v54M963.5 401.9h54M990.5 374.9v54M972.3 401.9h54M999.3 374.9v54M981.7 401.9h54M1008.7 374.9v54M991.0 401.9h54M1018.0 374.9v54M1000.5 401.9h54M1027.5 374.9v54M1009.5 401.9h54M1036.5 374.9v54M1013.0 401.9h54M1040.0 374.9v54M1019.0 401.9h54M1046.0 374.9v54M1025.2 401.9h54M1052.2 374.9v54M1034.0 401.9h54M1061.0 374.9v54M1043.0 401.9h54M1070.0 374.9v54M1050.5 401.9h54M1077.5 374.9v54M1057.5 401.9h54M1084.5 374.9v54M1063.7 401.9h54M1090.7 374.9v54M1069.0 401.9h54M1096.0 374.9v54M1073.4 401.9h54M1100.4 374.9v54M1081.0 401.9h54M1108.0 374.9v54M1088.3 401.9h54M1115.3 374.9v54M1095.4 401.9h54M1122.4 374.9v54M1201.8 401.9h54M1228.8 374.9v54M1214.2 401.9h54M1241.2 374.9v54M1234.5 401.9h54M1261.5 374.9v54M1241.2 401.9h54M1268.2 374.9v54M1281.9 401.9h54M1308.9 374.9v54M1295.4 401.9h54M1322.4 374.9v54M1309.9 401.9h54M1336.9 374.9v54M1319.2 401.9h54M1346.2 374.9v54M1331.3 401.9h54M1358.3 374.9v54M1336.2 401.9h54M1363.2 374.9v54M1341.9 401.9h54M1368.9 374.9v54M1360.3 401.9h54M1387.3 374.9v54M1439.8 401.9h54M1466.8 374.9v54"/>
<path class="x" d="M251.7 387.0l29.8 29.8m0 -29.8l-29.8 29.8M268.4 386.0l29.8 29.8m0 -29.8l-29.8 29.8M268.4 387.5l29.8 29.8m0 -29.8l-29.8 29.8M279.0 387.0l29.8 29.8m0 -29.8l-29.8 29.8M412.7 387.0l29.8 29.8m0 -29.8l-29.8 29.8M448.4 387.0l29.8 29.8m0 -29.8l-29.8 29.8M516.1 384.4l29.8 29.8m0 -29.8l-29.8 29.8M516.1 387.1l29.8 29.8m0 -29.8l-29.8 29.8M527.1 384.2l29.8 29.8m0 -29.8l-29.8 29.8M527.1 386.6l29.8 29.8m0 -29.8l-29.8 29.8M538.1 384.4l29.8 29.8m0 -29.8l-29.8 29.8M538.1 384.6l29.8 29.8m0 -29.8l-29.8 29.8M550.1 386.6l29.8 29.8m0 -29.8l-29.8 29.8M550.1 389.0l29.8 29.8m0 -29.8l-29.8 29.8M561.1 384.8l29.8 29.8m0 -29.8l-29.8 29.8M561.1 385.4l29.8 29.8m0 -29.8l-29.8 29.8M573.1 387.8l29.8 29.8m0 -29.8l-29.8 29.8M573.1 389.7l29.8 29.8m0 -29.8l-29.8 29.8M585.1 387.5l29.8 29.8m0 -29.8l-29.8 29.8M585.1 386.4l29.8 29.8m0 -29.8l-29.8 29.8M702.8 387.0l29.8 29.8m0 -29.8l-29.8 29.8M729.8 387.0l29.8 29.8m0 -29.8l-29.8 29.8M744.7 388.9l29.8 29.8m0 -29.8l-29.8 29.8M755.4 385.9l29.8 29.8m0 -29.8l-29.8 29.8M761.8 385.2l29.8 29.8m0 -29.8l-29.8 29.8M768.9 385.0l29.8 29.8m0 -29.8l-29.8 29.8M777.4 386.0l29.8 29.8m0 -29.8l-29.8 29.8M783.1 388.7l29.8 29.8m0 -29.8l-29.8 29.8M791.6 385.4l29.8 29.8m0 -29.8l-29.8 29.8M802.3 387.4l29.8 29.8m0 -29.8l-29.8 29.8M808.7 387.7l29.8 29.8m0 -29.8l-29.8 29.8M820.1 386.4l29.8 29.8m0 -29.8l-29.8 29.8M828.6 387.3l29.8 29.8m0 -29.8l-29.8 29.8M835.0 384.7l29.8 29.8m0 -29.8l-29.8 29.8M840.7 384.7l29.8 29.8m0 -29.8l-29.8 29.8M848.5 385.5l29.8 29.8m0 -29.8l-29.8 29.8M857.1 388.0l29.8 29.8m0 -29.8l-29.8 29.8M962.8 386.6l29.8 29.8m0 -29.8l-29.8 29.8M967.0 385.9l29.8 29.8m0 -29.8l-29.8 29.8M975.6 387.5l29.8 29.8m0 -29.8l-29.8 29.8M984.4 386.7l29.8 29.8m0 -29.8l-29.8 29.8M993.8 385.8l29.8 29.8m0 -29.8l-29.8 29.8M1003.1 388.8l29.8 29.8m0 -29.8l-29.8 29.8M1012.6 388.2l29.8 29.8m0 -29.8l-29.8 29.8M1021.6 385.5l29.8 29.8m0 -29.8l-29.8 29.8M1025.1 387.5l29.8 29.8m0 -29.8l-29.8 29.8M1031.1 387.2l29.8 29.8m0 -29.8l-29.8 29.8M1037.3 389.3l29.8 29.8m0 -29.8l-29.8 29.8M1046.1 388.4l29.8 29.8m0 -29.8l-29.8 29.8M1055.1 385.7l29.8 29.8m0 -29.8l-29.8 29.8M1062.6 389.9l29.8 29.8m0 -29.8l-29.8 29.8M1069.6 384.7l29.8 29.8m0 -29.8l-29.8 29.8M1075.8 386.5l29.8 29.8m0 -29.8l-29.8 29.8M1081.1 388.6l29.8 29.8m0 -29.8l-29.8 29.8M1085.5 384.9l29.8 29.8m0 -29.8l-29.8 29.8M1093.1 386.9l29.8 29.8m0 -29.8l-29.8 29.8M1100.4 384.2l29.8 29.8m0 -29.8l-29.8 29.8M1107.5 388.0l29.8 29.8m0 -29.8l-29.8 29.8M1213.9 387.8l29.8 29.8m0 -29.8l-29.8 29.8M1226.3 387.2l29.8 29.8m0 -29.8l-29.8 29.8M1246.6 388.1l29.8 29.8m0 -29.8l-29.8 29.8M1253.3 386.5l29.8 29.8m0 -29.8l-29.8 29.8M1294.0 388.1l29.8 29.8m0 -29.8l-29.8 29.8M1307.5 387.5l29.8 29.8m0 -29.8l-29.8 29.8M1322.0 387.5l29.8 29.8m0 -29.8l-29.8 29.8M1331.3 386.8l29.8 29.8m0 -29.8l-29.8 29.8M1343.4 388.9l29.8 29.8m0 -29.8l-29.8 29.8M1348.3 389.5l29.8 29.8m0 -29.8l-29.8 29.8M1354.0 386.9l29.8 29.8m0 -29.8l-29.8 29.8M1372.4 387.9l29.8 29.8m0 -29.8l-29.8 29.8M1451.9 387.0l29.8 29.8m0 -29.8l-29.8 29.8"/>
<text class="tk" text-anchor="end" transform="translate(237.0 86.0) scale(0.985 1.040)">4000</text>
<text class="tk" text-anchor="end" transform="translate(237.0 253.5) scale(0.985 1.040)">2000</text>
<text class="tk" text-anchor="end" transform="translate(237.0 421.5) scale(0.985 1.040)">0</text>
<text class="tk" text-anchor="end" transform="translate(237.0 588.9) scale(0.985 1.040)">-2000</text>
<text class="tk" text-anchor="end" transform="translate(237.0 757.8) scale(0.985 1.040)">-4000</text>
<text class="tk" text-anchor="end" transform="translate(237.0 925.3) scale(0.985 1.040)">-6000</text>
<text class="tk" text-anchor="end" transform="translate(237.0 1093.2) scale(0.985 1.040)">-8000</text>
<text class="tk" text-anchor="end" transform="translate(237.0 1260.4) scale(0.985 1.040)">-10000</text>
<text class="tk" text-anchor="middle" transform="translate(253.8 1303.0)">-0.5</text>
<text class="tk" text-anchor="middle" transform="translate(531.6 1303.0)">0</text>
<text class="tk" text-anchor="middle" transform="translate(809.2 1303.0)">0.5</text>
<text class="tk" text-anchor="middle" transform="translate(1088.3 1303.0)">1</text>
<text class="tk" text-anchor="middle" transform="translate(1365.0 1303.0)">1.5</text>
<text class="tk" text-anchor="middle" transform="translate(1644.3 1303.0)">2</text>
<text class="lb" text-anchor="middle" transform="translate(949.3 1369.5) scale(1.000 0.970)">Camera Movement Angle (º)</text>
<text class="lb" text-anchor="middle" transform="translate(68.0 652.2) rotate(-90) scale(0.998 0.960)">Measured Displacement of Marker (mm)</text>
<g>
<circle cx="361.1" cy="960.9" r="20.2" fill="none" stroke="#0070C0" stroke-width="7.2"/>
<rect x="341.2" y="997.3" width="41" height="41" rx="1.5" fill="none" stroke="#FF0000" stroke-width="7.2" stroke-linejoin="round"/>
<path d="M339 1084.7h43.6M360.8 1063.2v43.1" fill="none" stroke="#FFC000" stroke-width="12.9"/>
<path d="M341.4 1125.4l39.2 39.2M341.4 1164.6l39.2 -39.2" fill="none" stroke="#00A650" stroke-width="11"/>
<text class="lg" text-anchor="start" transform="translate(403.9 977.6) scale(1.000 0.945)">Conventional Model</text>
<text class="lg" text-anchor="start" transform="translate(403.9 1039.6) scale(1.000 0.945)">Model 1</text>
<text class="lg" text-anchor="start" transform="translate(403.9 1101.0) scale(1.000 0.945)">Model 2</text>
<text class="lg" text-anchor="start" transform="translate(403.9 1161.1) scale(1.000 0.945)">Model 3</text>
</g>
</svg>
</body></html>
